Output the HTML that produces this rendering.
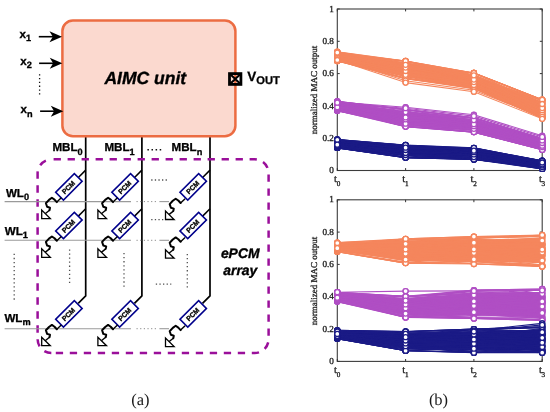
<!DOCTYPE html>
<html><head><meta charset="utf-8"><title>AIMC unit and ePCM array</title>
<style>html,body{margin:0;padding:0;background:#fff}svg{display:block}text{text-rendering:geometricPrecision}.sb{font-family:"Liberation Sans",sans-serif;font-weight:bold;fill:#000;stroke:#000;stroke-width:.3px}.sbi{font-family:"Liberation Sans",sans-serif;font-weight:bold;font-style:italic;fill:#000;stroke:#000;stroke-width:.35px}.se{font-family:"Liberation Serif",serif;fill:#1a1a1a}.tk{stroke:#1a1a1a;stroke-width:.3px}</style></head><body>
<svg width="550" height="412" viewBox="0 0 550 412">
<rect width="550" height="412" fill="#fff"/>
<g stroke="#000" stroke-width="1.7" fill="none">
<path d="M85.7 136 V295.9 L78.2 303.4"/>
<path d="M141.9 136 V295.9 L134.4 303.4"/>
<path d="M210.0 136 V295.9 L202.5 303.4"/>
</g>
<rect x="62.4" y="20.5" width="173" height="115.7" rx="10.5" ry="10.5" fill="#fbd9cf" stroke="#ec6c42" stroke-width="2.5"/>
<text class="sbi" x="145.3" y="83.9" font-size="17.5" text-anchor="middle">AIMC unit</text>
<path d="M38.8 36.7 H54" stroke="#000" stroke-width="1.6" fill="none"/>
<path d="M62 36.7 L49.5 31.200000000000003 L52.8 36.7 L49.5 42.2 Z" fill="#000"/>
<path d="M39.099999999999994 63.3 H54.3" stroke="#000" stroke-width="1.6" fill="none"/>
<path d="M62.3 63.3 L49.8 57.8 L53.099999999999994 63.3 L49.8 68.8 Z" fill="#000"/>
<path d="M40.099999999999994 111.2 H55.3" stroke="#000" stroke-width="1.6" fill="none"/>
<path d="M63.3 111.2 L50.8 105.7 L54.099999999999994 111.2 L50.8 116.7 Z" fill="#000"/>
<text class="sb" x="19.6" y="38" font-size="11.6" text-anchor="start">x<tspan font-size="9.2" dy="3.4">1</tspan></text>
<text class="sb" x="20.3" y="65" font-size="11.6" text-anchor="start">x<tspan font-size="9.2" dy="3.4">2</tspan></text>
<text class="sb" x="20.6" y="113.3" font-size="11.6" text-anchor="start">x<tspan font-size="9.2" dy="3.4">n</tspan></text>
<path d="M39.6 74.2 V95" stroke="#111" stroke-width="1.3" stroke-dasharray="1.3 2.5" fill="none"/>
<rect x="229.5" y="73.6" width="11.4" height="10.8" fill="none" stroke="#000" stroke-width="2.8"/>
<path d="M230 74 L240.5 84 M240.5 74 L230 84" stroke="#000" stroke-width="2.1"/>
<text class="sb" x="247.2" y="81" font-size="13.5">V<tspan font-size="11.2" dy="3">OUT</tspan></text>
<text class="sb" x="52.4" y="151.2" font-size="11.6" text-anchor="start">MBL<tspan font-size="9.2" dy="3.4">0</tspan></text>
<text class="sb" x="104.4" y="151.2" font-size="11.6" text-anchor="start">MBL<tspan font-size="9.2" dy="3.4">1</tspan></text>
<text class="sb" x="171.5" y="151.2" font-size="11.6" text-anchor="start">MBL<tspan font-size="9.2" dy="3.4">n</tspan></text>
<path d="M147.4 149.7 H162" stroke="#111" stroke-width="1.5" stroke-dasharray="1.5 2.6" fill="none"/>
<g fill="none" stroke="#9a0f9a" stroke-width="2.5" stroke-dasharray="7.3 6.7">
<path d="M51.7 159.3 H254.6 A14 14 0 0 1 268.6 173.3 V339 A14 14 0 0 1 254.6 353.1 H51.7" stroke-dashoffset="-1.9"/>
<path d="M51.7 159.3 A14 14 0 0 0 37.6 173.3 V339 A14 14 0 0 0 51.7 353.1" stroke-dashoffset="-6"/>
</g>
<path d="M4.6 201.6 H131" stroke="#9a9a9a" stroke-width="1.1" fill="none"/>
<path d="M136.5 201.6 H157" stroke="#8a8a8a" stroke-width="1" stroke-dasharray="1.2 2.45" fill="none"/>
<path d="M159.4 201.6 H169" stroke="#9a9a9a" stroke-width="1.1" fill="none"/>
<path d="M4.6 240.3 H131" stroke="#9a9a9a" stroke-width="1.1" fill="none"/>
<path d="M136.5 240.3 H157" stroke="#8a8a8a" stroke-width="1" stroke-dasharray="1.2 2.45" fill="none"/>
<path d="M159.4 240.3 H169" stroke="#9a9a9a" stroke-width="1.1" fill="none"/>
<path d="M4.6 328.7 H131" stroke="#9a9a9a" stroke-width="1.1" fill="none"/>
<path d="M136.5 328.7 H157" stroke="#8a8a8a" stroke-width="1" stroke-dasharray="1.2 2.45" fill="none"/>
<path d="M159.4 328.7 H169" stroke="#9a9a9a" stroke-width="1.1" fill="none"/>
<text class="sb" x="5.9" y="196.5" font-size="11.6" text-anchor="start">WL<tspan font-size="9.2" dy="3.4">0</tspan></text>
<text class="sb" x="4.8" y="234.6" font-size="11.6" text-anchor="start">WL<tspan font-size="9.2" dy="3.4">1</tspan></text>
<text class="sb" x="4.4" y="321.8" font-size="11.6" text-anchor="start">WL<tspan font-size="9.2" dy="3.4">m</tspan></text>
<g transform="translate(0.10 0.30)">
<path d="M85.6 169.8 L78 177.4" stroke="#000" stroke-width="1.5" fill="none"/>
<g transform="translate(68.8 186.5) rotate(-45)">
<rect x="-13.2" y="-5.5" width="26.4" height="11" fill="#fff" stroke="#00008b" stroke-width="1.6"/>
<text class="sb" x="-0.7" y="2.5" font-size="6.9" text-anchor="middle">PCM</text>
</g>
<g transform="translate(0 0)">
<path d="M61.2 197.5 L56.7 201.8" stroke="#000" stroke-width="1.4" fill="none"/>
<path d="M56.7 201.8 L54.4 199.3 L51.8 197.5 L48.9 199.6 L45.8 202.9 L47.0 206.5 L49.9 207.4 L49.4 209.9" stroke="#000" stroke-width="2" fill="none" stroke-linejoin="round" stroke-linecap="round"/>
<path d="M49.4 209.9 L45 213.4" stroke="#000" stroke-width="1.4" fill="none"/>
<path d="M41.6 209.8 V218.3 H50.2 Z" fill="#fff" stroke="#000" stroke-width="1.3" stroke-linejoin="miter"/>
</g></g>
<g transform="translate(0.10 39.00)">
<path d="M85.6 169.8 L78 177.4" stroke="#000" stroke-width="1.5" fill="none"/>
<g transform="translate(68.8 186.5) rotate(-45)">
<rect x="-13.2" y="-5.5" width="26.4" height="11" fill="#fff" stroke="#00008b" stroke-width="1.6"/>
<text class="sb" x="-0.7" y="2.5" font-size="6.9" text-anchor="middle">PCM</text>
</g>
<g transform="translate(0 0)">
<path d="M61.2 197.5 L56.7 201.8" stroke="#000" stroke-width="1.4" fill="none"/>
<path d="M56.7 201.8 L54.4 199.3 L51.8 197.5 L48.9 199.6 L45.8 202.9 L47.0 206.5 L49.9 207.4 L49.4 209.9" stroke="#000" stroke-width="2" fill="none" stroke-linejoin="round" stroke-linecap="round"/>
<path d="M49.4 209.9 L45 213.4" stroke="#000" stroke-width="1.4" fill="none"/>
<path d="M41.6 209.8 V218.3 H50.2 Z" fill="#fff" stroke="#000" stroke-width="1.3" stroke-linejoin="miter"/>
</g></g>
<g transform="translate(0.10 127.40)">
<g transform="translate(68.8 186.5) rotate(-45)">
<rect x="-13.2" y="-5.5" width="26.4" height="11" fill="#fff" stroke="#00008b" stroke-width="1.6"/>
<text class="sb" x="-0.7" y="2.5" font-size="6.9" text-anchor="middle">PCM</text>
</g>
<g transform="translate(0 0)">
<path d="M61.2 197.5 L56.7 201.8" stroke="#000" stroke-width="1.4" fill="none"/>
<path d="M56.7 201.8 L54.4 199.3 L51.8 197.5 L48.9 199.6 L45.8 202.9 L47.0 206.5 L49.9 207.4 L49.4 209.9" stroke="#000" stroke-width="2" fill="none" stroke-linejoin="round" stroke-linecap="round"/>
<path d="M49.4 209.9 L45 213.4" stroke="#000" stroke-width="1.4" fill="none"/>
<path d="M41.6 209.8 V218.3 H50.2 Z" fill="#fff" stroke="#000" stroke-width="1.3" stroke-linejoin="miter"/>
</g></g>
<g transform="translate(56.30 0.30)">
<path d="M85.6 169.8 L78 177.4" stroke="#000" stroke-width="1.5" fill="none"/>
<g transform="translate(68.8 186.5) rotate(-45)">
<rect x="-13.2" y="-5.5" width="26.4" height="11" fill="#fff" stroke="#00008b" stroke-width="1.6"/>
<text class="sb" x="-0.7" y="2.5" font-size="6.9" text-anchor="middle">PCM</text>
</g>
<g transform="translate(0 0)">
<path d="M61.2 197.5 L56.7 201.8" stroke="#000" stroke-width="1.4" fill="none"/>
<path d="M56.7 201.8 L54.4 199.3 L51.8 197.5 L48.9 199.6 L45.8 202.9 L47.0 206.5 L49.9 207.4 L49.4 209.9" stroke="#000" stroke-width="2" fill="none" stroke-linejoin="round" stroke-linecap="round"/>
<path d="M49.4 209.9 L45 213.4" stroke="#000" stroke-width="1.4" fill="none"/>
<path d="M41.6 209.8 V218.3 H50.2 Z" fill="#fff" stroke="#000" stroke-width="1.3" stroke-linejoin="miter"/>
</g></g>
<g transform="translate(56.30 39.00)">
<path d="M85.6 169.8 L78 177.4" stroke="#000" stroke-width="1.5" fill="none"/>
<g transform="translate(68.8 186.5) rotate(-45)">
<rect x="-13.2" y="-5.5" width="26.4" height="11" fill="#fff" stroke="#00008b" stroke-width="1.6"/>
<text class="sb" x="-0.7" y="2.5" font-size="6.9" text-anchor="middle">PCM</text>
</g>
<g transform="translate(0 0)">
<path d="M61.2 197.5 L56.7 201.8" stroke="#000" stroke-width="1.4" fill="none"/>
<path d="M56.7 201.8 L54.4 199.3 L51.8 197.5 L48.9 199.6 L45.8 202.9 L47.0 206.5 L49.9 207.4 L49.4 209.9" stroke="#000" stroke-width="2" fill="none" stroke-linejoin="round" stroke-linecap="round"/>
<path d="M49.4 209.9 L45 213.4" stroke="#000" stroke-width="1.4" fill="none"/>
<path d="M41.6 209.8 V218.3 H50.2 Z" fill="#fff" stroke="#000" stroke-width="1.3" stroke-linejoin="miter"/>
</g></g>
<g transform="translate(56.30 127.40)">
<g transform="translate(68.8 186.5) rotate(-45)">
<rect x="-13.2" y="-5.5" width="26.4" height="11" fill="#fff" stroke="#00008b" stroke-width="1.6"/>
<text class="sb" x="-0.7" y="2.5" font-size="6.9" text-anchor="middle">PCM</text>
</g>
<g transform="translate(0 0)">
<path d="M61.2 197.5 L56.7 201.8" stroke="#000" stroke-width="1.4" fill="none"/>
<path d="M56.7 201.8 L54.4 199.3 L51.8 197.5 L48.9 199.6 L45.8 202.9 L47.0 206.5 L49.9 207.4 L49.4 209.9" stroke="#000" stroke-width="2" fill="none" stroke-linejoin="round" stroke-linecap="round"/>
<path d="M49.4 209.9 L45 213.4" stroke="#000" stroke-width="1.4" fill="none"/>
<path d="M41.6 209.8 V218.3 H50.2 Z" fill="#fff" stroke="#000" stroke-width="1.3" stroke-linejoin="miter"/>
</g></g>
<g transform="translate(124.40 0.30)">
<path d="M85.6 169.8 L78 177.4" stroke="#000" stroke-width="1.5" fill="none"/>
<g transform="translate(68.8 186.5) rotate(-45)">
<rect x="-13.2" y="-5.5" width="26.4" height="11" fill="#fff" stroke="#00008b" stroke-width="1.6"/>
<text class="sb" x="-0.7" y="2.5" font-size="6.9" text-anchor="middle">PCM</text>
</g>
<g transform="translate(-0.5 0.9)">
<path d="M61.2 197.5 L56.7 201.8" stroke="#000" stroke-width="1.4" fill="none"/>
<path d="M56.7 201.8 L54.4 199.3 L51.8 197.5 L48.9 199.6 L45.8 202.9 L47.0 206.5 L49.9 207.4 L49.4 209.9" stroke="#000" stroke-width="2" fill="none" stroke-linejoin="round" stroke-linecap="round"/>
<path d="M49.4 209.9 L45 213.4" stroke="#000" stroke-width="1.4" fill="none"/>
<path d="M41.6 209.8 V218.3 H50.2 Z" fill="#fff" stroke="#000" stroke-width="1.3" stroke-linejoin="miter"/>
</g></g>
<g transform="translate(124.40 39.00)">
<path d="M85.6 169.8 L78 177.4" stroke="#000" stroke-width="1.5" fill="none"/>
<g transform="translate(68.8 186.5) rotate(-45)">
<rect x="-13.2" y="-5.5" width="26.4" height="11" fill="#fff" stroke="#00008b" stroke-width="1.6"/>
<text class="sb" x="-0.7" y="2.5" font-size="6.9" text-anchor="middle">PCM</text>
</g>
<g transform="translate(-0.5 0.9)">
<path d="M61.2 197.5 L56.7 201.8" stroke="#000" stroke-width="1.4" fill="none"/>
<path d="M56.7 201.8 L54.4 199.3 L51.8 197.5 L48.9 199.6 L45.8 202.9 L47.0 206.5 L49.9 207.4 L49.4 209.9" stroke="#000" stroke-width="2" fill="none" stroke-linejoin="round" stroke-linecap="round"/>
<path d="M49.4 209.9 L45 213.4" stroke="#000" stroke-width="1.4" fill="none"/>
<path d="M41.6 209.8 V218.3 H50.2 Z" fill="#fff" stroke="#000" stroke-width="1.3" stroke-linejoin="miter"/>
</g></g>
<g transform="translate(124.40 127.40)">
<g transform="translate(68.8 186.5) rotate(-45)">
<rect x="-13.2" y="-5.5" width="26.4" height="11" fill="#fff" stroke="#00008b" stroke-width="1.6"/>
<text class="sb" x="-0.7" y="2.5" font-size="6.9" text-anchor="middle">PCM</text>
</g>
<g transform="translate(-0.5 0.9)">
<path d="M61.2 197.5 L56.7 201.8" stroke="#000" stroke-width="1.4" fill="none"/>
<path d="M56.7 201.8 L54.4 199.3 L51.8 197.5 L48.9 199.6 L45.8 202.9 L47.0 206.5 L49.9 207.4 L49.4 209.9" stroke="#000" stroke-width="2" fill="none" stroke-linejoin="round" stroke-linecap="round"/>
<path d="M49.4 209.9 L45 213.4" stroke="#000" stroke-width="1.4" fill="none"/>
<path d="M41.6 209.8 V218.3 H50.2 Z" fill="#fff" stroke="#000" stroke-width="1.3" stroke-linejoin="miter"/>
</g></g>
<path d="M14.2 253.8 V302.3" stroke="#505050" stroke-width="1.3" stroke-dasharray="1.3 2.75" fill="none"/>
<path d="M69.6 249.4 V283.6" stroke="#505050" stroke-width="1.3" stroke-dasharray="1.3 2.75" fill="none"/>
<path d="M124 253 V287.2" stroke="#505050" stroke-width="1.3" stroke-dasharray="1.3 2.75" fill="none"/>
<path d="M187.3 253.9 V288.2" stroke="#505050" stroke-width="1.3" stroke-dasharray="1.3 2.75" fill="none"/>
<path d="M151.2 180 H167" stroke="#505050" stroke-width="1.3" stroke-dasharray="1.3 2.3" fill="none"/>
<path d="M151.2 219.7 H164" stroke="#505050" stroke-width="1.3" stroke-dasharray="1.3 2.3" fill="none"/>
<path d="M155.8 284.2 H171.3" stroke="#505050" stroke-width="1.3" stroke-dasharray="1.3 2.3" fill="none"/>
<text class="sbi" x="240.2" y="258.3" font-size="13.9" text-anchor="middle">ePCM</text>
<text class="sbi" x="240.3" y="274.6" font-size="13.9" text-anchor="middle">array</text>
<text class="se" x="140.4" y="404.5" font-size="16.5" text-anchor="middle">(a)</text>
<text class="se" x="438.5" y="404.5" font-size="16.5" text-anchor="middle">(b)</text>
<rect x="337.3" y="9.0" width="204.90000000000003" height="161.5" fill="none" stroke="#3c3c3c" stroke-width="1.1"/>
<g stroke="#333" stroke-width="1">
<path d="M337.3 170.5 v-2.4 M337.3 9.0 v2.4"/>
<path d="M405.6 170.5 v-2.4 M405.6 9.0 v2.4"/>
<path d="M473.9 170.5 v-2.4 M473.9 9.0 v2.4"/>
<path d="M542.2 170.5 v-2.4 M542.2 9.0 v2.4"/>
<path d="M337.3 170.5 h2.4 M542.2 170.5 h-2.4"/>
<path d="M337.3 138.2 h2.4 M542.2 138.2 h-2.4"/>
<path d="M337.3 105.9 h2.4 M542.2 105.9 h-2.4"/>
<path d="M337.3 73.6 h2.4 M542.2 73.6 h-2.4"/>
<path d="M337.3 41.3 h2.4 M542.2 41.3 h-2.4"/>
<path d="M337.3 9.0 h2.4 M542.2 9.0 h-2.4"/>
</g>
<g class="se tk" font-size="9.2" text-anchor="end">
<text x="333.9" y="173.1">0</text>
<text x="333.9" y="140.8">0.2</text>
<text x="333.9" y="108.5">0.4</text>
<text x="333.9" y="76.2">0.6</text>
<text x="333.9" y="43.9">0.8</text>
<text x="333.9" y="11.6">1</text>
</g>
<text class="se tk" x="334.0" y="182.0" font-size="10.6">t</text>
<text class="se tk" x="336.7" y="185.8" font-size="7.2">0</text>
<text class="se tk" x="402.3" y="182.0" font-size="10.6">t</text>
<text class="se tk" x="405.0" y="185.8" font-size="7.2">1</text>
<text class="se tk" x="470.6" y="182.0" font-size="10.6">t</text>
<text class="se tk" x="473.3" y="185.8" font-size="7.2">2</text>
<text class="se tk" x="538.9" y="182.0" font-size="10.6">t</text>
<text class="se tk" x="541.6" y="185.8" font-size="7.2">3</text>
<text class="se tk" transform="translate(316.9 90.0) rotate(-90)" font-size="9" text-anchor="middle">normalized MAC output</text>
<polygon fill="#f5865d" points="337.3,52.7 405.6,62.8 473.9,74.5 542.2,101.6 542.2,116.0 473.9,87.1 405.6,76.8 337.3,60.1"/>
<g stroke="#f5865d" stroke-width="1.1" fill="none" stroke-linejoin="round">
<polyline points="337.3,61.0 405.6,78.6 473.9,88.6 542.2,117.9"/>
<polyline points="337.3,60.8 405.6,78.3 473.9,88.3 542.2,117.5"/>
<polyline points="337.3,61.0 405.6,75.3 473.9,86.2 542.2,117.9"/>
<polyline points="337.3,60.5 405.6,78.0 473.9,86.7 542.2,114.6"/>
<polyline points="337.3,61.0 405.6,78.6 473.9,85.2 542.2,117.1"/>
<polyline points="337.3,59.1 405.6,78.6 473.9,87.6 542.2,114.4"/>
<polyline points="337.3,61.0 405.6,73.2 473.9,84.1 542.2,117.9"/>
<polyline points="337.3,61.0 405.6,76.0 473.9,83.6 542.2,116.5"/>
<polyline points="337.3,60.8 405.6,76.6 473.9,88.6 542.2,117.4"/>
<polyline points="337.3,59.7 405.6,75.8 473.9,87.9 542.2,117.0"/>
<polyline points="337.3,60.5 405.6,75.7 473.9,87.2 542.2,117.9"/>
<polyline points="337.3,57.8 405.6,74.6 473.9,84.5 542.2,116.7"/>
<polyline points="337.3,57.0 405.6,72.0 473.9,87.8 542.2,115.2"/>
<polyline points="337.3,57.9 405.6,72.8 473.9,81.9 542.2,114.2"/>
<polyline points="337.3,57.3 405.6,72.8 473.9,86.0 542.2,112.5"/>
<polyline points="337.3,56.9 405.6,71.1 473.9,84.3 542.2,112.2"/>
<polyline points="337.3,60.2 405.6,75.5 473.9,82.0 542.2,113.3"/>
<polyline points="337.3,59.5 405.6,72.8 473.9,82.4 542.2,110.9"/>
<polyline points="337.3,58.5 405.6,73.3 473.9,83.4 542.2,109.7"/>
<polyline points="337.3,57.7 405.6,73.4 473.9,83.3 542.2,115.3"/>
<polyline points="337.3,59.5 405.6,70.6 473.9,79.6 542.2,110.5"/>
<polyline points="337.3,57.9 405.6,74.4 473.9,82.6 542.2,107.1"/>
<polyline points="337.3,56.2 405.6,71.3 473.9,79.9 542.2,112.7"/>
<polyline points="337.3,57.1 405.6,67.7 473.9,81.5 542.2,110.6"/>
<polyline points="337.3,57.9 405.6,70.6 473.9,78.6 542.2,113.9"/>
<polyline points="337.3,55.7 405.6,68.1 473.9,78.8 542.2,107.7"/>
<polyline points="337.3,55.4 405.6,70.1 473.9,80.8 542.2,109.9"/>
<polyline points="337.3,58.3 405.6,67.1 473.9,80.4 542.2,111.4"/>
<polyline points="337.3,56.3 405.6,69.8 473.9,81.6 542.2,109.9"/>
<polyline points="337.3,56.0 405.6,68.4 473.9,79.6 542.2,108.6"/>
<polyline points="337.3,57.9 405.6,71.1 473.9,82.3 542.2,107.3"/>
<polyline points="337.3,54.4 405.6,66.4 473.9,77.7 542.2,105.1"/>
<polyline points="337.3,56.6 405.6,65.7 473.9,78.3 542.2,110.6"/>
<polyline points="337.3,57.4 405.6,71.8 473.9,77.5 542.2,109.0"/>
<polyline points="337.3,56.9 405.6,66.8 473.9,80.0 542.2,110.1"/>
<polyline points="337.3,56.5 405.6,67.2 473.9,80.9 542.2,108.1"/>
<polyline points="337.3,54.1 405.6,67.4 473.9,79.6 542.2,106.2"/>
<polyline points="337.3,56.7 405.6,67.6 473.9,78.6 542.2,108.2"/>
<polyline points="337.3,56.2 405.6,63.3 473.9,77.7 542.2,107.7"/>
<polyline points="337.3,54.0 405.6,63.7 473.9,80.8 542.2,108.9"/>
<polyline points="337.3,55.7 405.6,64.1 473.9,79.6 542.2,103.1"/>
<polyline points="337.3,53.4 405.6,65.1 473.9,78.9 542.2,100.6"/>
<polyline points="337.3,52.8 405.6,65.0 473.9,78.6 542.2,102.9"/>
<polyline points="337.3,54.2 405.6,64.3 473.9,77.6 542.2,102.7"/>
<polyline points="337.3,55.4 405.6,66.1 473.9,73.0 542.2,100.4"/>
<polyline points="337.3,54.3 405.6,61.4 473.9,77.1 542.2,99.8"/>
<polyline points="337.3,52.3 405.6,64.5 473.9,77.2 542.2,106.6"/>
<polyline points="337.3,51.8 405.6,67.1 473.9,73.0 542.2,99.8"/>
<polyline points="337.3,52.7 405.6,65.8 473.9,73.0 542.2,99.8"/>
<polyline points="337.3,52.0 405.6,62.9 473.9,75.5 542.2,103.0"/>
<polyline points="337.3,53.8 405.6,61.3 473.9,74.8 542.2,103.8"/>
<polyline points="337.3,54.1 405.6,61.0 473.9,75.5 542.2,101.1"/>
<polyline points="337.3,53.0 405.6,61.0 473.9,73.0 542.2,104.6"/>
<polyline points="337.3,53.3 405.6,63.0 473.9,73.0 542.2,99.8"/>
<polyline points="337.3,52.0 405.6,61.3 473.9,73.2 542.2,100.1"/>
<polyline points="337.3,51.8 405.6,61.0 473.9,73.0 542.2,99.8"/>
<polyline points="337.3,59.1 405.6,80.7 473.9,90.2 542.2,116.9"/>
<polyline points="337.3,60.0 405.6,82.6 473.9,91.7 542.2,118.8"/>
</g>
<g stroke="#f5865d" stroke-width="1.3" fill="none">
<circle cx="337.3" cy="61.0" r="2.55"/>
<circle cx="405.6" cy="78.6" r="2.55"/>
<circle cx="473.9" cy="88.6" r="2.55"/>
<circle cx="542.2" cy="117.9" r="2.55"/>
<circle cx="337.3" cy="60.8" r="2.55"/>
<circle cx="405.6" cy="78.3" r="2.55"/>
<circle cx="473.9" cy="88.3" r="2.55"/>
<circle cx="542.2" cy="117.5" r="2.55"/>
<circle cx="337.3" cy="61.0" r="2.55"/>
<circle cx="405.6" cy="75.3" r="2.55"/>
<circle cx="473.9" cy="86.2" r="2.55"/>
<circle cx="542.2" cy="117.9" r="2.55"/>
<circle cx="337.3" cy="60.5" r="2.55"/>
<circle cx="405.6" cy="78.0" r="2.55"/>
<circle cx="473.9" cy="86.7" r="2.55"/>
<circle cx="542.2" cy="114.6" r="2.55"/>
<circle cx="337.3" cy="61.0" r="2.55"/>
<circle cx="405.6" cy="78.6" r="2.55"/>
<circle cx="473.9" cy="85.2" r="2.55"/>
<circle cx="542.2" cy="117.1" r="2.55"/>
<circle cx="337.3" cy="59.1" r="2.55"/>
<circle cx="405.6" cy="78.6" r="2.55"/>
<circle cx="473.9" cy="87.6" r="2.55"/>
<circle cx="542.2" cy="114.4" r="2.55"/>
<circle cx="337.3" cy="61.0" r="2.55"/>
<circle cx="405.6" cy="73.2" r="2.55"/>
<circle cx="473.9" cy="84.1" r="2.55"/>
<circle cx="542.2" cy="117.9" r="2.55"/>
<circle cx="337.3" cy="61.0" r="2.55"/>
<circle cx="405.6" cy="76.0" r="2.55"/>
<circle cx="473.9" cy="83.6" r="2.55"/>
<circle cx="542.2" cy="116.5" r="2.55"/>
<circle cx="337.3" cy="60.8" r="2.55"/>
<circle cx="405.6" cy="76.6" r="2.55"/>
<circle cx="473.9" cy="88.6" r="2.55"/>
<circle cx="542.2" cy="117.4" r="2.55"/>
<circle cx="337.3" cy="59.7" r="2.55"/>
<circle cx="405.6" cy="75.8" r="2.55"/>
<circle cx="473.9" cy="87.9" r="2.55"/>
<circle cx="542.2" cy="117.0" r="2.55"/>
<circle cx="337.3" cy="60.5" r="2.55"/>
<circle cx="405.6" cy="75.7" r="2.55"/>
<circle cx="473.9" cy="87.2" r="2.55"/>
<circle cx="542.2" cy="117.9" r="2.55"/>
<circle cx="337.3" cy="57.8" r="2.55"/>
<circle cx="405.6" cy="74.6" r="2.55"/>
<circle cx="473.9" cy="84.5" r="2.55"/>
<circle cx="542.2" cy="116.7" r="2.55"/>
<circle cx="337.3" cy="57.0" r="2.55"/>
<circle cx="405.6" cy="72.0" r="2.55"/>
<circle cx="473.9" cy="87.8" r="2.55"/>
<circle cx="542.2" cy="115.2" r="2.55"/>
<circle cx="337.3" cy="57.9" r="2.55"/>
<circle cx="405.6" cy="72.8" r="2.55"/>
<circle cx="473.9" cy="81.9" r="2.55"/>
<circle cx="542.2" cy="114.2" r="2.55"/>
<circle cx="337.3" cy="57.3" r="2.55"/>
<circle cx="405.6" cy="72.8" r="2.55"/>
<circle cx="473.9" cy="86.0" r="2.55"/>
<circle cx="542.2" cy="112.5" r="2.55"/>
<circle cx="337.3" cy="56.9" r="2.55"/>
<circle cx="405.6" cy="71.1" r="2.55"/>
<circle cx="473.9" cy="84.3" r="2.55"/>
<circle cx="542.2" cy="112.2" r="2.55"/>
<circle cx="337.3" cy="60.2" r="2.55"/>
<circle cx="405.6" cy="75.5" r="2.55"/>
<circle cx="473.9" cy="82.0" r="2.55"/>
<circle cx="542.2" cy="113.3" r="2.55"/>
<circle cx="337.3" cy="59.5" r="2.55"/>
<circle cx="405.6" cy="72.8" r="2.55"/>
<circle cx="473.9" cy="82.4" r="2.55"/>
<circle cx="542.2" cy="110.9" r="2.55"/>
<circle cx="337.3" cy="58.5" r="2.55"/>
<circle cx="405.6" cy="73.3" r="2.55"/>
<circle cx="473.9" cy="83.4" r="2.55"/>
<circle cx="542.2" cy="109.7" r="2.55"/>
<circle cx="337.3" cy="57.7" r="2.55"/>
<circle cx="405.6" cy="73.4" r="2.55"/>
<circle cx="473.9" cy="83.3" r="2.55"/>
<circle cx="542.2" cy="115.3" r="2.55"/>
<circle cx="337.3" cy="59.5" r="2.55"/>
<circle cx="405.6" cy="70.6" r="2.55"/>
<circle cx="473.9" cy="79.6" r="2.55"/>
<circle cx="542.2" cy="110.5" r="2.55"/>
<circle cx="337.3" cy="57.9" r="2.55"/>
<circle cx="405.6" cy="74.4" r="2.55"/>
<circle cx="473.9" cy="82.6" r="2.55"/>
<circle cx="542.2" cy="107.1" r="2.55"/>
<circle cx="337.3" cy="56.2" r="2.55"/>
<circle cx="405.6" cy="71.3" r="2.55"/>
<circle cx="473.9" cy="79.9" r="2.55"/>
<circle cx="542.2" cy="112.7" r="2.55"/>
<circle cx="337.3" cy="57.1" r="2.55"/>
<circle cx="405.6" cy="67.7" r="2.55"/>
<circle cx="473.9" cy="81.5" r="2.55"/>
<circle cx="542.2" cy="110.6" r="2.55"/>
<circle cx="337.3" cy="57.9" r="2.55"/>
<circle cx="405.6" cy="70.6" r="2.55"/>
<circle cx="473.9" cy="78.6" r="2.55"/>
<circle cx="542.2" cy="113.9" r="2.55"/>
<circle cx="337.3" cy="55.7" r="2.55"/>
<circle cx="405.6" cy="68.1" r="2.55"/>
<circle cx="473.9" cy="78.8" r="2.55"/>
<circle cx="542.2" cy="107.7" r="2.55"/>
<circle cx="337.3" cy="55.4" r="2.55"/>
<circle cx="405.6" cy="70.1" r="2.55"/>
<circle cx="473.9" cy="80.8" r="2.55"/>
<circle cx="542.2" cy="109.9" r="2.55"/>
<circle cx="337.3" cy="58.3" r="2.55"/>
<circle cx="405.6" cy="67.1" r="2.55"/>
<circle cx="473.9" cy="80.4" r="2.55"/>
<circle cx="542.2" cy="111.4" r="2.55"/>
<circle cx="337.3" cy="56.3" r="2.55"/>
<circle cx="405.6" cy="69.8" r="2.55"/>
<circle cx="473.9" cy="81.6" r="2.55"/>
<circle cx="542.2" cy="109.9" r="2.55"/>
<circle cx="337.3" cy="56.0" r="2.55"/>
<circle cx="405.6" cy="68.4" r="2.55"/>
<circle cx="473.9" cy="79.6" r="2.55"/>
<circle cx="542.2" cy="108.6" r="2.55"/>
<circle cx="337.3" cy="57.9" r="2.55"/>
<circle cx="405.6" cy="71.1" r="2.55"/>
<circle cx="473.9" cy="82.3" r="2.55"/>
<circle cx="542.2" cy="107.3" r="2.55"/>
<circle cx="337.3" cy="54.4" r="2.55"/>
<circle cx="405.6" cy="66.4" r="2.55"/>
<circle cx="473.9" cy="77.7" r="2.55"/>
<circle cx="542.2" cy="105.1" r="2.55"/>
<circle cx="337.3" cy="56.6" r="2.55"/>
<circle cx="405.6" cy="65.7" r="2.55"/>
<circle cx="473.9" cy="78.3" r="2.55"/>
<circle cx="542.2" cy="110.6" r="2.55"/>
<circle cx="337.3" cy="57.4" r="2.55"/>
<circle cx="405.6" cy="71.8" r="2.55"/>
<circle cx="473.9" cy="77.5" r="2.55"/>
<circle cx="542.2" cy="109.0" r="2.55"/>
<circle cx="337.3" cy="56.9" r="2.55"/>
<circle cx="405.6" cy="66.8" r="2.55"/>
<circle cx="473.9" cy="80.0" r="2.55"/>
<circle cx="542.2" cy="110.1" r="2.55"/>
<circle cx="337.3" cy="56.5" r="2.55"/>
<circle cx="405.6" cy="67.2" r="2.55"/>
<circle cx="473.9" cy="80.9" r="2.55"/>
<circle cx="542.2" cy="108.1" r="2.55"/>
<circle cx="337.3" cy="54.1" r="2.55"/>
<circle cx="405.6" cy="67.4" r="2.55"/>
<circle cx="473.9" cy="79.6" r="2.55"/>
<circle cx="542.2" cy="106.2" r="2.55"/>
<circle cx="337.3" cy="56.7" r="2.55"/>
<circle cx="405.6" cy="67.6" r="2.55"/>
<circle cx="473.9" cy="78.6" r="2.55"/>
<circle cx="542.2" cy="108.2" r="2.55"/>
<circle cx="337.3" cy="56.2" r="2.55"/>
<circle cx="405.6" cy="63.3" r="2.55"/>
<circle cx="473.9" cy="77.7" r="2.55"/>
<circle cx="542.2" cy="107.7" r="2.55"/>
<circle cx="337.3" cy="54.0" r="2.55"/>
<circle cx="405.6" cy="63.7" r="2.55"/>
<circle cx="473.9" cy="80.8" r="2.55"/>
<circle cx="542.2" cy="108.9" r="2.55"/>
<circle cx="337.3" cy="55.7" r="2.55"/>
<circle cx="405.6" cy="64.1" r="2.55"/>
<circle cx="473.9" cy="79.6" r="2.55"/>
<circle cx="542.2" cy="103.1" r="2.55"/>
<circle cx="337.3" cy="53.4" r="2.55"/>
<circle cx="405.6" cy="65.1" r="2.55"/>
<circle cx="473.9" cy="78.9" r="2.55"/>
<circle cx="542.2" cy="100.6" r="2.55"/>
<circle cx="337.3" cy="52.8" r="2.55"/>
<circle cx="405.6" cy="65.0" r="2.55"/>
<circle cx="473.9" cy="78.6" r="2.55"/>
<circle cx="542.2" cy="102.9" r="2.55"/>
<circle cx="337.3" cy="54.2" r="2.55"/>
<circle cx="405.6" cy="64.3" r="2.55"/>
<circle cx="473.9" cy="77.6" r="2.55"/>
<circle cx="542.2" cy="102.7" r="2.55"/>
<circle cx="337.3" cy="55.4" r="2.55"/>
<circle cx="405.6" cy="66.1" r="2.55"/>
<circle cx="473.9" cy="73.0" r="2.55"/>
<circle cx="542.2" cy="100.4" r="2.55"/>
<circle cx="337.3" cy="54.3" r="2.55"/>
<circle cx="405.6" cy="61.4" r="2.55"/>
<circle cx="473.9" cy="77.1" r="2.55"/>
<circle cx="542.2" cy="99.8" r="2.55"/>
<circle cx="337.3" cy="52.3" r="2.55"/>
<circle cx="405.6" cy="64.5" r="2.55"/>
<circle cx="473.9" cy="77.2" r="2.55"/>
<circle cx="542.2" cy="106.6" r="2.55"/>
<circle cx="337.3" cy="51.8" r="2.55"/>
<circle cx="405.6" cy="67.1" r="2.55"/>
<circle cx="473.9" cy="73.0" r="2.55"/>
<circle cx="542.2" cy="99.8" r="2.55"/>
<circle cx="337.3" cy="52.7" r="2.55"/>
<circle cx="405.6" cy="65.8" r="2.55"/>
<circle cx="473.9" cy="73.0" r="2.55"/>
<circle cx="542.2" cy="99.8" r="2.55"/>
<circle cx="337.3" cy="52.0" r="2.55"/>
<circle cx="405.6" cy="62.9" r="2.55"/>
<circle cx="473.9" cy="75.5" r="2.55"/>
<circle cx="542.2" cy="103.0" r="2.55"/>
<circle cx="337.3" cy="53.8" r="2.55"/>
<circle cx="405.6" cy="61.3" r="2.55"/>
<circle cx="473.9" cy="74.8" r="2.55"/>
<circle cx="542.2" cy="103.8" r="2.55"/>
<circle cx="337.3" cy="54.1" r="2.55"/>
<circle cx="405.6" cy="61.0" r="2.55"/>
<circle cx="473.9" cy="75.5" r="2.55"/>
<circle cx="542.2" cy="101.1" r="2.55"/>
<circle cx="337.3" cy="53.0" r="2.55"/>
<circle cx="405.6" cy="61.0" r="2.55"/>
<circle cx="473.9" cy="73.0" r="2.55"/>
<circle cx="542.2" cy="104.6" r="2.55"/>
<circle cx="337.3" cy="53.3" r="2.55"/>
<circle cx="405.6" cy="63.0" r="2.55"/>
<circle cx="473.9" cy="73.0" r="2.55"/>
<circle cx="542.2" cy="99.8" r="2.55"/>
<circle cx="337.3" cy="52.0" r="2.55"/>
<circle cx="405.6" cy="61.3" r="2.55"/>
<circle cx="473.9" cy="73.2" r="2.55"/>
<circle cx="542.2" cy="100.1" r="2.55"/>
<circle cx="337.3" cy="51.8" r="2.55"/>
<circle cx="405.6" cy="61.0" r="2.55"/>
<circle cx="473.9" cy="73.0" r="2.55"/>
<circle cx="542.2" cy="99.8" r="2.55"/>
<circle cx="337.3" cy="59.1" r="2.55"/>
<circle cx="405.6" cy="80.7" r="2.55"/>
<circle cx="473.9" cy="90.2" r="2.55"/>
<circle cx="542.2" cy="116.9" r="2.55"/>
<circle cx="337.3" cy="60.0" r="2.55"/>
<circle cx="405.6" cy="82.6" r="2.55"/>
<circle cx="473.9" cy="91.7" r="2.55"/>
<circle cx="542.2" cy="118.8" r="2.55"/>
</g>
<g stroke="#f5865d" stroke-width="1.3" fill="#fff">
<circle cx="337.3" cy="52.6" r="2.5"/>
<circle cx="337.3" cy="57.8" r="2.5"/>
<circle cx="337.3" cy="59.1" r="2.5"/>
<circle cx="337.3" cy="60.0" r="2.5"/>
<circle cx="405.6" cy="78.6" r="2.5"/>
<circle cx="405.6" cy="61.0" r="2.5"/>
<circle cx="405.6" cy="74.8" r="2.5"/>
<circle cx="405.6" cy="71.0" r="2.5"/>
<circle cx="405.6" cy="67.6" r="2.5"/>
<circle cx="405.6" cy="64.8" r="2.5"/>
<circle cx="405.6" cy="80.7" r="2.5"/>
<circle cx="405.6" cy="82.6" r="2.5"/>
<circle cx="473.9" cy="88.6" r="2.5"/>
<circle cx="473.9" cy="73.0" r="2.5"/>
<circle cx="473.9" cy="84.9" r="2.5"/>
<circle cx="473.9" cy="82.1" r="2.5"/>
<circle cx="473.9" cy="79.6" r="2.5"/>
<circle cx="473.9" cy="75.3" r="2.5"/>
<circle cx="473.9" cy="90.2" r="2.5"/>
<circle cx="473.9" cy="91.7" r="2.5"/>
<circle cx="542.2" cy="117.9" r="2.5"/>
<circle cx="542.2" cy="99.8" r="2.5"/>
<circle cx="542.2" cy="114.7" r="2.5"/>
<circle cx="542.2" cy="110.2" r="2.5"/>
<circle cx="542.2" cy="108.1" r="2.5"/>
<circle cx="542.2" cy="104.0" r="2.5"/>
<circle cx="542.2" cy="116.9" r="2.5"/>
<circle cx="542.2" cy="118.8" r="2.5"/>
</g>
<polygon fill="#b04fc4" points="337.3,102.3 405.6,111.2 473.9,119.3 542.2,139.7 542.2,148.7 473.9,130.6 405.6,124.9 337.3,109.8"/>
<g stroke="#b04fc4" stroke-width="1.1" fill="none" stroke-linejoin="round">
<polyline points="337.3,110.7 405.6,126.6 473.9,132.1 542.2,149.8"/>
<polyline points="337.3,110.6 405.6,126.3 473.9,131.8 542.2,149.6"/>
<polyline points="337.3,108.7 405.6,126.6 473.9,129.9 542.2,148.9"/>
<polyline points="337.3,108.8 405.6,126.6 473.9,132.1 542.2,149.8"/>
<polyline points="337.3,108.5 405.6,124.5 473.9,128.2 542.2,147.1"/>
<polyline points="337.3,110.7 405.6,124.6 473.9,132.1 542.2,149.8"/>
<polyline points="337.3,110.7 405.6,121.9 473.9,128.7 542.2,147.0"/>
<polyline points="337.3,110.2 405.6,123.5 473.9,128.5 542.2,149.0"/>
<polyline points="337.3,109.1 405.6,126.2 473.9,132.1 542.2,149.3"/>
<polyline points="337.3,107.6 405.6,123.3 473.9,127.1 542.2,148.2"/>
<polyline points="337.3,110.0 405.6,121.3 473.9,127.4 542.2,149.8"/>
<polyline points="337.3,108.2 405.6,126.2 473.9,131.6 542.2,145.7"/>
<polyline points="337.3,110.6 405.6,124.8 473.9,125.9 542.2,147.8"/>
<polyline points="337.3,110.1 405.6,125.0 473.9,130.3 542.2,145.9"/>
<polyline points="337.3,110.0 405.6,119.1 473.9,129.2 542.2,144.6"/>
<polyline points="337.3,106.5 405.6,123.5 473.9,129.7 542.2,146.9"/>
<polyline points="337.3,109.7 405.6,120.4 473.9,130.8 542.2,149.0"/>
<polyline points="337.3,105.9 405.6,122.8 473.9,127.1 542.2,146.6"/>
<polyline points="337.3,108.4 405.6,124.3 473.9,124.8 542.2,143.8"/>
<polyline points="337.3,105.6 405.6,123.6 473.9,128.9 542.2,145.3"/>
<polyline points="337.3,105.4 405.6,120.0 473.9,125.7 542.2,144.9"/>
<polyline points="337.3,108.2 405.6,119.7 473.9,127.8 542.2,146.8"/>
<polyline points="337.3,108.7 405.6,121.4 473.9,123.4 542.2,145.6"/>
<polyline points="337.3,106.2 405.6,118.3 473.9,123.4 542.2,145.6"/>
<polyline points="337.3,107.5 405.6,120.4 473.9,127.0 542.2,143.2"/>
<polyline points="337.3,104.9 405.6,120.3 473.9,126.6 542.2,144.5"/>
<polyline points="337.3,106.0 405.6,117.8 473.9,126.9 542.2,146.9"/>
<polyline points="337.3,107.2 405.6,121.4 473.9,124.8 542.2,146.4"/>
<polyline points="337.3,107.7 405.6,116.8 473.9,126.1 542.2,142.6"/>
<polyline points="337.3,105.8 405.6,114.8 473.9,126.7 542.2,143.9"/>
<polyline points="337.3,104.4 405.6,120.4 473.9,121.5 542.2,145.3"/>
<polyline points="337.3,104.3 405.6,113.3 473.9,122.0 542.2,144.4"/>
<polyline points="337.3,106.9 405.6,116.5 473.9,121.2 542.2,144.3"/>
<polyline points="337.3,103.5 405.6,119.0 473.9,121.0 542.2,145.4"/>
<polyline points="337.3,105.7 405.6,113.0 473.9,121.4 542.2,140.8"/>
<polyline points="337.3,103.4 405.6,113.8 473.9,121.8 542.2,144.2"/>
<polyline points="337.3,104.9 405.6,117.9 473.9,121.4 542.2,141.6"/>
<polyline points="337.3,105.5 405.6,118.3 473.9,119.6 542.2,140.7"/>
<polyline points="337.3,104.1 405.6,114.4 473.9,120.0 542.2,142.2"/>
<polyline points="337.3,104.5 405.6,115.6 473.9,123.5 542.2,144.2"/>
<polyline points="337.3,103.3 405.6,114.7 473.9,121.3 542.2,143.8"/>
<polyline points="337.3,104.4 405.6,116.5 473.9,123.8 542.2,142.6"/>
<polyline points="337.3,102.2 405.6,114.3 473.9,121.8 542.2,140.6"/>
<polyline points="337.3,104.5 405.6,116.9 473.9,120.8 542.2,141.0"/>
<polyline points="337.3,102.6 405.6,113.3 473.9,119.5 542.2,139.6"/>
<polyline points="337.3,104.2 405.6,112.6 473.9,120.6 542.2,141.9"/>
<polyline points="337.3,103.3 405.6,111.8 473.9,117.9 542.2,138.5"/>
<polyline points="337.3,103.7 405.6,110.8 473.9,122.7 542.2,142.3"/>
<polyline points="337.3,102.5 405.6,109.5 473.9,121.8 542.2,138.6"/>
<polyline points="337.3,101.4 405.6,112.7 473.9,118.2 542.2,138.5"/>
<polyline points="337.3,102.8 405.6,109.5 473.9,117.9 542.2,139.1"/>
<polyline points="337.3,101.4 405.6,109.5 473.9,117.9 542.2,139.0"/>
<polyline points="337.3,103.2 405.6,112.3 473.9,120.4 542.2,138.8"/>
<polyline points="337.3,101.4 405.6,113.4 473.9,117.9 542.2,138.5"/>
<polyline points="337.3,101.5 405.6,109.8 473.9,118.1 542.2,138.7"/>
<polyline points="337.3,101.4 405.6,109.5 473.9,117.9 542.2,138.5"/>
<polyline points="337.3,102.0 405.6,107.2 473.9,114.8 542.2,135.8"/>
<polyline points="337.3,102.7 405.6,108.2 473.9,116.1 542.2,136.9"/>
</g>
<g stroke="#b04fc4" stroke-width="1.3" fill="none">
<circle cx="337.3" cy="110.7" r="2.55"/>
<circle cx="405.6" cy="126.6" r="2.55"/>
<circle cx="473.9" cy="132.1" r="2.55"/>
<circle cx="542.2" cy="149.8" r="2.55"/>
<circle cx="337.3" cy="110.6" r="2.55"/>
<circle cx="405.6" cy="126.3" r="2.55"/>
<circle cx="473.9" cy="131.8" r="2.55"/>
<circle cx="542.2" cy="149.6" r="2.55"/>
<circle cx="337.3" cy="108.7" r="2.55"/>
<circle cx="405.6" cy="126.6" r="2.55"/>
<circle cx="473.9" cy="129.9" r="2.55"/>
<circle cx="542.2" cy="148.9" r="2.55"/>
<circle cx="337.3" cy="108.8" r="2.55"/>
<circle cx="405.6" cy="126.6" r="2.55"/>
<circle cx="473.9" cy="132.1" r="2.55"/>
<circle cx="542.2" cy="149.8" r="2.55"/>
<circle cx="337.3" cy="108.5" r="2.55"/>
<circle cx="405.6" cy="124.5" r="2.55"/>
<circle cx="473.9" cy="128.2" r="2.55"/>
<circle cx="542.2" cy="147.1" r="2.55"/>
<circle cx="337.3" cy="110.7" r="2.55"/>
<circle cx="405.6" cy="124.6" r="2.55"/>
<circle cx="473.9" cy="132.1" r="2.55"/>
<circle cx="542.2" cy="149.8" r="2.55"/>
<circle cx="337.3" cy="110.7" r="2.55"/>
<circle cx="405.6" cy="121.9" r="2.55"/>
<circle cx="473.9" cy="128.7" r="2.55"/>
<circle cx="542.2" cy="147.0" r="2.55"/>
<circle cx="337.3" cy="110.2" r="2.55"/>
<circle cx="405.6" cy="123.5" r="2.55"/>
<circle cx="473.9" cy="128.5" r="2.55"/>
<circle cx="542.2" cy="149.0" r="2.55"/>
<circle cx="337.3" cy="109.1" r="2.55"/>
<circle cx="405.6" cy="126.2" r="2.55"/>
<circle cx="473.9" cy="132.1" r="2.55"/>
<circle cx="542.2" cy="149.3" r="2.55"/>
<circle cx="337.3" cy="107.6" r="2.55"/>
<circle cx="405.6" cy="123.3" r="2.55"/>
<circle cx="473.9" cy="127.1" r="2.55"/>
<circle cx="542.2" cy="148.2" r="2.55"/>
<circle cx="337.3" cy="110.0" r="2.55"/>
<circle cx="405.6" cy="121.3" r="2.55"/>
<circle cx="473.9" cy="127.4" r="2.55"/>
<circle cx="542.2" cy="149.8" r="2.55"/>
<circle cx="337.3" cy="108.2" r="2.55"/>
<circle cx="405.6" cy="126.2" r="2.55"/>
<circle cx="473.9" cy="131.6" r="2.55"/>
<circle cx="542.2" cy="145.7" r="2.55"/>
<circle cx="337.3" cy="110.6" r="2.55"/>
<circle cx="405.6" cy="124.8" r="2.55"/>
<circle cx="473.9" cy="125.9" r="2.55"/>
<circle cx="542.2" cy="147.8" r="2.55"/>
<circle cx="337.3" cy="110.1" r="2.55"/>
<circle cx="405.6" cy="125.0" r="2.55"/>
<circle cx="473.9" cy="130.3" r="2.55"/>
<circle cx="542.2" cy="145.9" r="2.55"/>
<circle cx="337.3" cy="110.0" r="2.55"/>
<circle cx="405.6" cy="119.1" r="2.55"/>
<circle cx="473.9" cy="129.2" r="2.55"/>
<circle cx="542.2" cy="144.6" r="2.55"/>
<circle cx="337.3" cy="106.5" r="2.55"/>
<circle cx="405.6" cy="123.5" r="2.55"/>
<circle cx="473.9" cy="129.7" r="2.55"/>
<circle cx="542.2" cy="146.9" r="2.55"/>
<circle cx="337.3" cy="109.7" r="2.55"/>
<circle cx="405.6" cy="120.4" r="2.55"/>
<circle cx="473.9" cy="130.8" r="2.55"/>
<circle cx="542.2" cy="149.0" r="2.55"/>
<circle cx="337.3" cy="105.9" r="2.55"/>
<circle cx="405.6" cy="122.8" r="2.55"/>
<circle cx="473.9" cy="127.1" r="2.55"/>
<circle cx="542.2" cy="146.6" r="2.55"/>
<circle cx="337.3" cy="108.4" r="2.55"/>
<circle cx="405.6" cy="124.3" r="2.55"/>
<circle cx="473.9" cy="124.8" r="2.55"/>
<circle cx="542.2" cy="143.8" r="2.55"/>
<circle cx="337.3" cy="105.6" r="2.55"/>
<circle cx="405.6" cy="123.6" r="2.55"/>
<circle cx="473.9" cy="128.9" r="2.55"/>
<circle cx="542.2" cy="145.3" r="2.55"/>
<circle cx="337.3" cy="105.4" r="2.55"/>
<circle cx="405.6" cy="120.0" r="2.55"/>
<circle cx="473.9" cy="125.7" r="2.55"/>
<circle cx="542.2" cy="144.9" r="2.55"/>
<circle cx="337.3" cy="108.2" r="2.55"/>
<circle cx="405.6" cy="119.7" r="2.55"/>
<circle cx="473.9" cy="127.8" r="2.55"/>
<circle cx="542.2" cy="146.8" r="2.55"/>
<circle cx="337.3" cy="108.7" r="2.55"/>
<circle cx="405.6" cy="121.4" r="2.55"/>
<circle cx="473.9" cy="123.4" r="2.55"/>
<circle cx="542.2" cy="145.6" r="2.55"/>
<circle cx="337.3" cy="106.2" r="2.55"/>
<circle cx="405.6" cy="118.3" r="2.55"/>
<circle cx="473.9" cy="123.4" r="2.55"/>
<circle cx="542.2" cy="145.6" r="2.55"/>
<circle cx="337.3" cy="107.5" r="2.55"/>
<circle cx="405.6" cy="120.4" r="2.55"/>
<circle cx="473.9" cy="127.0" r="2.55"/>
<circle cx="542.2" cy="143.2" r="2.55"/>
<circle cx="337.3" cy="104.9" r="2.55"/>
<circle cx="405.6" cy="120.3" r="2.55"/>
<circle cx="473.9" cy="126.6" r="2.55"/>
<circle cx="542.2" cy="144.5" r="2.55"/>
<circle cx="337.3" cy="106.0" r="2.55"/>
<circle cx="405.6" cy="117.8" r="2.55"/>
<circle cx="473.9" cy="126.9" r="2.55"/>
<circle cx="542.2" cy="146.9" r="2.55"/>
<circle cx="337.3" cy="107.2" r="2.55"/>
<circle cx="405.6" cy="121.4" r="2.55"/>
<circle cx="473.9" cy="124.8" r="2.55"/>
<circle cx="542.2" cy="146.4" r="2.55"/>
<circle cx="337.3" cy="107.7" r="2.55"/>
<circle cx="405.6" cy="116.8" r="2.55"/>
<circle cx="473.9" cy="126.1" r="2.55"/>
<circle cx="542.2" cy="142.6" r="2.55"/>
<circle cx="337.3" cy="105.8" r="2.55"/>
<circle cx="405.6" cy="114.8" r="2.55"/>
<circle cx="473.9" cy="126.7" r="2.55"/>
<circle cx="542.2" cy="143.9" r="2.55"/>
<circle cx="337.3" cy="104.4" r="2.55"/>
<circle cx="405.6" cy="120.4" r="2.55"/>
<circle cx="473.9" cy="121.5" r="2.55"/>
<circle cx="542.2" cy="145.3" r="2.55"/>
<circle cx="337.3" cy="104.3" r="2.55"/>
<circle cx="405.6" cy="113.3" r="2.55"/>
<circle cx="473.9" cy="122.0" r="2.55"/>
<circle cx="542.2" cy="144.4" r="2.55"/>
<circle cx="337.3" cy="106.9" r="2.55"/>
<circle cx="405.6" cy="116.5" r="2.55"/>
<circle cx="473.9" cy="121.2" r="2.55"/>
<circle cx="542.2" cy="144.3" r="2.55"/>
<circle cx="337.3" cy="103.5" r="2.55"/>
<circle cx="405.6" cy="119.0" r="2.55"/>
<circle cx="473.9" cy="121.0" r="2.55"/>
<circle cx="542.2" cy="145.4" r="2.55"/>
<circle cx="337.3" cy="105.7" r="2.55"/>
<circle cx="405.6" cy="113.0" r="2.55"/>
<circle cx="473.9" cy="121.4" r="2.55"/>
<circle cx="542.2" cy="140.8" r="2.55"/>
<circle cx="337.3" cy="103.4" r="2.55"/>
<circle cx="405.6" cy="113.8" r="2.55"/>
<circle cx="473.9" cy="121.8" r="2.55"/>
<circle cx="542.2" cy="144.2" r="2.55"/>
<circle cx="337.3" cy="104.9" r="2.55"/>
<circle cx="405.6" cy="117.9" r="2.55"/>
<circle cx="473.9" cy="121.4" r="2.55"/>
<circle cx="542.2" cy="141.6" r="2.55"/>
<circle cx="337.3" cy="105.5" r="2.55"/>
<circle cx="405.6" cy="118.3" r="2.55"/>
<circle cx="473.9" cy="119.6" r="2.55"/>
<circle cx="542.2" cy="140.7" r="2.55"/>
<circle cx="337.3" cy="104.1" r="2.55"/>
<circle cx="405.6" cy="114.4" r="2.55"/>
<circle cx="473.9" cy="120.0" r="2.55"/>
<circle cx="542.2" cy="142.2" r="2.55"/>
<circle cx="337.3" cy="104.5" r="2.55"/>
<circle cx="405.6" cy="115.6" r="2.55"/>
<circle cx="473.9" cy="123.5" r="2.55"/>
<circle cx="542.2" cy="144.2" r="2.55"/>
<circle cx="337.3" cy="103.3" r="2.55"/>
<circle cx="405.6" cy="114.7" r="2.55"/>
<circle cx="473.9" cy="121.3" r="2.55"/>
<circle cx="542.2" cy="143.8" r="2.55"/>
<circle cx="337.3" cy="104.4" r="2.55"/>
<circle cx="405.6" cy="116.5" r="2.55"/>
<circle cx="473.9" cy="123.8" r="2.55"/>
<circle cx="542.2" cy="142.6" r="2.55"/>
<circle cx="337.3" cy="102.2" r="2.55"/>
<circle cx="405.6" cy="114.3" r="2.55"/>
<circle cx="473.9" cy="121.8" r="2.55"/>
<circle cx="542.2" cy="140.6" r="2.55"/>
<circle cx="337.3" cy="104.5" r="2.55"/>
<circle cx="405.6" cy="116.9" r="2.55"/>
<circle cx="473.9" cy="120.8" r="2.55"/>
<circle cx="542.2" cy="141.0" r="2.55"/>
<circle cx="337.3" cy="102.6" r="2.55"/>
<circle cx="405.6" cy="113.3" r="2.55"/>
<circle cx="473.9" cy="119.5" r="2.55"/>
<circle cx="542.2" cy="139.6" r="2.55"/>
<circle cx="337.3" cy="104.2" r="2.55"/>
<circle cx="405.6" cy="112.6" r="2.55"/>
<circle cx="473.9" cy="120.6" r="2.55"/>
<circle cx="542.2" cy="141.9" r="2.55"/>
<circle cx="337.3" cy="103.3" r="2.55"/>
<circle cx="405.6" cy="111.8" r="2.55"/>
<circle cx="473.9" cy="117.9" r="2.55"/>
<circle cx="542.2" cy="138.5" r="2.55"/>
<circle cx="337.3" cy="103.7" r="2.55"/>
<circle cx="405.6" cy="110.8" r="2.55"/>
<circle cx="473.9" cy="122.7" r="2.55"/>
<circle cx="542.2" cy="142.3" r="2.55"/>
<circle cx="337.3" cy="102.5" r="2.55"/>
<circle cx="405.6" cy="109.5" r="2.55"/>
<circle cx="473.9" cy="121.8" r="2.55"/>
<circle cx="542.2" cy="138.6" r="2.55"/>
<circle cx="337.3" cy="101.4" r="2.55"/>
<circle cx="405.6" cy="112.7" r="2.55"/>
<circle cx="473.9" cy="118.2" r="2.55"/>
<circle cx="542.2" cy="138.5" r="2.55"/>
<circle cx="337.3" cy="102.8" r="2.55"/>
<circle cx="405.6" cy="109.5" r="2.55"/>
<circle cx="473.9" cy="117.9" r="2.55"/>
<circle cx="542.2" cy="139.1" r="2.55"/>
<circle cx="337.3" cy="101.4" r="2.55"/>
<circle cx="405.6" cy="109.5" r="2.55"/>
<circle cx="473.9" cy="117.9" r="2.55"/>
<circle cx="542.2" cy="139.0" r="2.55"/>
<circle cx="337.3" cy="103.2" r="2.55"/>
<circle cx="405.6" cy="112.3" r="2.55"/>
<circle cx="473.9" cy="120.4" r="2.55"/>
<circle cx="542.2" cy="138.8" r="2.55"/>
<circle cx="337.3" cy="101.4" r="2.55"/>
<circle cx="405.6" cy="113.4" r="2.55"/>
<circle cx="473.9" cy="117.9" r="2.55"/>
<circle cx="542.2" cy="138.5" r="2.55"/>
<circle cx="337.3" cy="101.5" r="2.55"/>
<circle cx="405.6" cy="109.8" r="2.55"/>
<circle cx="473.9" cy="118.1" r="2.55"/>
<circle cx="542.2" cy="138.7" r="2.55"/>
<circle cx="337.3" cy="101.4" r="2.55"/>
<circle cx="405.6" cy="109.5" r="2.55"/>
<circle cx="473.9" cy="117.9" r="2.55"/>
<circle cx="542.2" cy="138.5" r="2.55"/>
<circle cx="337.3" cy="102.0" r="2.55"/>
<circle cx="405.6" cy="107.2" r="2.55"/>
<circle cx="473.9" cy="114.8" r="2.55"/>
<circle cx="542.2" cy="135.8" r="2.55"/>
<circle cx="337.3" cy="102.7" r="2.55"/>
<circle cx="405.6" cy="108.2" r="2.55"/>
<circle cx="473.9" cy="116.1" r="2.55"/>
<circle cx="542.2" cy="136.9" r="2.55"/>
</g>
<g stroke="#b04fc4" stroke-width="1.3" fill="#fff">
<circle cx="337.3" cy="102.2" r="2.5"/>
<circle cx="337.3" cy="107.2" r="2.5"/>
<circle cx="337.3" cy="102.0" r="2.5"/>
<circle cx="337.3" cy="102.7" r="2.5"/>
<circle cx="405.6" cy="126.6" r="2.5"/>
<circle cx="405.6" cy="109.5" r="2.5"/>
<circle cx="405.6" cy="123.7" r="2.5"/>
<circle cx="405.6" cy="119.3" r="2.5"/>
<circle cx="405.6" cy="117.4" r="2.5"/>
<circle cx="405.6" cy="112.1" r="2.5"/>
<circle cx="405.6" cy="107.2" r="2.5"/>
<circle cx="405.6" cy="108.2" r="2.5"/>
<circle cx="473.9" cy="132.1" r="2.5"/>
<circle cx="473.9" cy="117.9" r="2.5"/>
<circle cx="473.9" cy="128.8" r="2.5"/>
<circle cx="473.9" cy="126.2" r="2.5"/>
<circle cx="473.9" cy="124.2" r="2.5"/>
<circle cx="473.9" cy="120.1" r="2.5"/>
<circle cx="473.9" cy="114.8" r="2.5"/>
<circle cx="473.9" cy="116.1" r="2.5"/>
<circle cx="542.2" cy="149.8" r="2.5"/>
<circle cx="542.2" cy="138.5" r="2.5"/>
<circle cx="542.2" cy="147.0" r="2.5"/>
<circle cx="542.2" cy="145.7" r="2.5"/>
<circle cx="542.2" cy="143.0" r="2.5"/>
<circle cx="542.2" cy="140.4" r="2.5"/>
<circle cx="542.2" cy="135.8" r="2.5"/>
<circle cx="542.2" cy="136.9" r="2.5"/>
</g>
<polygon fill="#1b1b86" points="337.3,140.3 405.6,146.2 473.9,149.1 542.2,161.6 542.2,168.1 473.9,158.4 405.6,156.3 337.3,147.1"/>
<g stroke="#1b1b86" stroke-width="1.1" fill="none" stroke-linejoin="round">
<polyline points="337.3,147.9 405.6,157.6 473.9,159.5 542.2,168.9"/>
<polyline points="337.3,147.7 405.6,157.4 473.9,159.3 542.2,168.7"/>
<polyline points="337.3,147.0 405.6,156.0 473.9,159.4 542.2,167.1"/>
<polyline points="337.3,145.7 405.6,157.5 473.9,157.3 542.2,168.7"/>
<polyline points="337.3,147.9 405.6,157.6 473.9,159.5 542.2,166.8"/>
<polyline points="337.3,145.4 405.6,157.6 473.9,157.9 542.2,168.5"/>
<polyline points="337.3,147.9 405.6,157.3 473.9,159.5 542.2,167.1"/>
<polyline points="337.3,147.9 405.6,157.6 473.9,158.4 542.2,168.9"/>
<polyline points="337.3,146.2 405.6,155.2 473.9,156.1 542.2,168.8"/>
<polyline points="337.3,147.3 405.6,155.3 473.9,158.8 542.2,167.3"/>
<polyline points="337.3,147.3 405.6,154.3 473.9,155.9 542.2,166.3"/>
<polyline points="337.3,144.5 405.6,154.8 473.9,157.2 542.2,166.0"/>
<polyline points="337.3,145.1 405.6,154.4 473.9,157.6 542.2,167.9"/>
<polyline points="337.3,147.4 405.6,152.9 473.9,158.7 542.2,166.1"/>
<polyline points="337.3,145.6 405.6,151.8 473.9,155.2 542.2,165.1"/>
<polyline points="337.3,146.9 405.6,154.1 473.9,156.0 542.2,167.4"/>
<polyline points="337.3,145.4 405.6,154.7 473.9,156.0 542.2,168.3"/>
<polyline points="337.3,145.5 405.6,154.0 473.9,156.9 542.2,166.7"/>
<polyline points="337.3,144.1 405.6,152.4 473.9,155.8 542.2,165.7"/>
<polyline points="337.3,145.4 405.6,154.9 473.9,158.0 542.2,166.9"/>
<polyline points="337.3,144.5 405.6,150.9 473.9,153.6 542.2,165.9"/>
<polyline points="337.3,142.9 405.6,153.0 473.9,153.4 542.2,166.1"/>
<polyline points="337.3,143.6 405.6,149.8 473.9,155.9 542.2,166.8"/>
<polyline points="337.3,143.9 405.6,152.1 473.9,155.4 542.2,167.3"/>
<polyline points="337.3,144.6 405.6,152.5 473.9,154.9 542.2,164.1"/>
<polyline points="337.3,143.8 405.6,150.6 473.9,152.2 542.2,164.3"/>
<polyline points="337.3,143.9 405.6,150.3 473.9,153.3 542.2,164.5"/>
<polyline points="337.3,143.3 405.6,151.9 473.9,153.1 542.2,164.4"/>
<polyline points="337.3,142.0 405.6,149.6 473.9,151.8 542.2,163.8"/>
<polyline points="337.3,142.3 405.6,150.4 473.9,154.2 542.2,165.5"/>
<polyline points="337.3,142.5 405.6,148.6 473.9,152.9 542.2,165.7"/>
<polyline points="337.3,141.9 405.6,150.6 473.9,153.1 542.2,165.9"/>
<polyline points="337.3,143.0 405.6,148.9 473.9,153.1 542.2,164.7"/>
<polyline points="337.3,142.3 405.6,152.7 473.9,152.5 542.2,162.5"/>
<polyline points="337.3,142.0 405.6,150.3 473.9,151.4 542.2,163.5"/>
<polyline points="337.3,143.6 405.6,151.2 473.9,150.1 542.2,164.6"/>
<polyline points="337.3,144.0 405.6,147.5 473.9,151.8 542.2,164.1"/>
<polyline points="337.3,142.2 405.6,147.8 473.9,153.4 542.2,162.9"/>
<polyline points="337.3,141.3 405.6,147.1 473.9,152.7 542.2,162.9"/>
<polyline points="337.3,142.9 405.6,148.3 473.9,152.9 542.2,162.1"/>
<polyline points="337.3,140.4 405.6,149.4 473.9,152.5 542.2,161.4"/>
<polyline points="337.3,140.9 405.6,146.3 473.9,153.3 542.2,161.4"/>
<polyline points="337.3,141.0 405.6,149.0 473.9,151.0 542.2,161.8"/>
<polyline points="337.3,140.3 405.6,149.5 473.9,149.8 542.2,163.8"/>
<polyline points="337.3,139.5 405.6,147.8 473.9,148.1 542.2,161.6"/>
<polyline points="337.3,140.6 405.6,148.6 473.9,149.9 542.2,163.6"/>
<polyline points="337.3,142.2 405.6,145.8 473.9,150.5 542.2,161.2"/>
<polyline points="337.3,141.7 405.6,145.6 473.9,148.5 542.2,162.7"/>
<polyline points="337.3,142.0 405.6,147.2 473.9,149.4 542.2,163.3"/>
<polyline points="337.3,141.6 405.6,148.8 473.9,148.7 542.2,160.8"/>
<polyline points="337.3,141.3 405.6,148.7 473.9,147.9 542.2,160.8"/>
<polyline points="337.3,139.5 405.6,145.3 473.9,149.5 542.2,160.8"/>
<polyline points="337.3,141.4 405.6,145.0 473.9,150.6 542.2,161.6"/>
<polyline points="337.3,139.8 405.6,146.1 473.9,150.0 542.2,162.1"/>
<polyline points="337.3,139.6 405.6,145.2 473.9,148.1 542.2,161.0"/>
<polyline points="337.3,139.5 405.6,145.0 473.9,147.9 542.2,160.8"/>
</g>
<g stroke="#1b1b86" stroke-width="1.3" fill="none">
<circle cx="337.3" cy="147.9" r="2.55"/>
<circle cx="405.6" cy="157.6" r="2.55"/>
<circle cx="473.9" cy="159.5" r="2.55"/>
<circle cx="542.2" cy="168.9" r="2.55"/>
<circle cx="337.3" cy="147.7" r="2.55"/>
<circle cx="405.6" cy="157.4" r="2.55"/>
<circle cx="473.9" cy="159.3" r="2.55"/>
<circle cx="542.2" cy="168.7" r="2.55"/>
<circle cx="337.3" cy="147.0" r="2.55"/>
<circle cx="405.6" cy="156.0" r="2.55"/>
<circle cx="473.9" cy="159.4" r="2.55"/>
<circle cx="542.2" cy="167.1" r="2.55"/>
<circle cx="337.3" cy="145.7" r="2.55"/>
<circle cx="405.6" cy="157.5" r="2.55"/>
<circle cx="473.9" cy="157.3" r="2.55"/>
<circle cx="542.2" cy="168.7" r="2.55"/>
<circle cx="337.3" cy="147.9" r="2.55"/>
<circle cx="405.6" cy="157.6" r="2.55"/>
<circle cx="473.9" cy="159.5" r="2.55"/>
<circle cx="542.2" cy="166.8" r="2.55"/>
<circle cx="337.3" cy="145.4" r="2.55"/>
<circle cx="405.6" cy="157.6" r="2.55"/>
<circle cx="473.9" cy="157.9" r="2.55"/>
<circle cx="542.2" cy="168.5" r="2.55"/>
<circle cx="337.3" cy="147.9" r="2.55"/>
<circle cx="405.6" cy="157.3" r="2.55"/>
<circle cx="473.9" cy="159.5" r="2.55"/>
<circle cx="542.2" cy="167.1" r="2.55"/>
<circle cx="337.3" cy="147.9" r="2.55"/>
<circle cx="405.6" cy="157.6" r="2.55"/>
<circle cx="473.9" cy="158.4" r="2.55"/>
<circle cx="542.2" cy="168.9" r="2.55"/>
<circle cx="337.3" cy="146.2" r="2.55"/>
<circle cx="405.6" cy="155.2" r="2.55"/>
<circle cx="473.9" cy="156.1" r="2.55"/>
<circle cx="542.2" cy="168.8" r="2.55"/>
<circle cx="337.3" cy="147.3" r="2.55"/>
<circle cx="405.6" cy="155.3" r="2.55"/>
<circle cx="473.9" cy="158.8" r="2.55"/>
<circle cx="542.2" cy="167.3" r="2.55"/>
<circle cx="337.3" cy="147.3" r="2.55"/>
<circle cx="405.6" cy="154.3" r="2.55"/>
<circle cx="473.9" cy="155.9" r="2.55"/>
<circle cx="542.2" cy="166.3" r="2.55"/>
<circle cx="337.3" cy="144.5" r="2.55"/>
<circle cx="405.6" cy="154.8" r="2.55"/>
<circle cx="473.9" cy="157.2" r="2.55"/>
<circle cx="542.2" cy="166.0" r="2.55"/>
<circle cx="337.3" cy="145.1" r="2.55"/>
<circle cx="405.6" cy="154.4" r="2.55"/>
<circle cx="473.9" cy="157.6" r="2.55"/>
<circle cx="542.2" cy="167.9" r="2.55"/>
<circle cx="337.3" cy="147.4" r="2.55"/>
<circle cx="405.6" cy="152.9" r="2.55"/>
<circle cx="473.9" cy="158.7" r="2.55"/>
<circle cx="542.2" cy="166.1" r="2.55"/>
<circle cx="337.3" cy="145.6" r="2.55"/>
<circle cx="405.6" cy="151.8" r="2.55"/>
<circle cx="473.9" cy="155.2" r="2.55"/>
<circle cx="542.2" cy="165.1" r="2.55"/>
<circle cx="337.3" cy="146.9" r="2.55"/>
<circle cx="405.6" cy="154.1" r="2.55"/>
<circle cx="473.9" cy="156.0" r="2.55"/>
<circle cx="542.2" cy="167.4" r="2.55"/>
<circle cx="337.3" cy="145.4" r="2.55"/>
<circle cx="405.6" cy="154.7" r="2.55"/>
<circle cx="473.9" cy="156.0" r="2.55"/>
<circle cx="542.2" cy="168.3" r="2.55"/>
<circle cx="337.3" cy="145.5" r="2.55"/>
<circle cx="405.6" cy="154.0" r="2.55"/>
<circle cx="473.9" cy="156.9" r="2.55"/>
<circle cx="542.2" cy="166.7" r="2.55"/>
<circle cx="337.3" cy="144.1" r="2.55"/>
<circle cx="405.6" cy="152.4" r="2.55"/>
<circle cx="473.9" cy="155.8" r="2.55"/>
<circle cx="542.2" cy="165.7" r="2.55"/>
<circle cx="337.3" cy="145.4" r="2.55"/>
<circle cx="405.6" cy="154.9" r="2.55"/>
<circle cx="473.9" cy="158.0" r="2.55"/>
<circle cx="542.2" cy="166.9" r="2.55"/>
<circle cx="337.3" cy="144.5" r="2.55"/>
<circle cx="405.6" cy="150.9" r="2.55"/>
<circle cx="473.9" cy="153.6" r="2.55"/>
<circle cx="542.2" cy="165.9" r="2.55"/>
<circle cx="337.3" cy="142.9" r="2.55"/>
<circle cx="405.6" cy="153.0" r="2.55"/>
<circle cx="473.9" cy="153.4" r="2.55"/>
<circle cx="542.2" cy="166.1" r="2.55"/>
<circle cx="337.3" cy="143.6" r="2.55"/>
<circle cx="405.6" cy="149.8" r="2.55"/>
<circle cx="473.9" cy="155.9" r="2.55"/>
<circle cx="542.2" cy="166.8" r="2.55"/>
<circle cx="337.3" cy="143.9" r="2.55"/>
<circle cx="405.6" cy="152.1" r="2.55"/>
<circle cx="473.9" cy="155.4" r="2.55"/>
<circle cx="542.2" cy="167.3" r="2.55"/>
<circle cx="337.3" cy="144.6" r="2.55"/>
<circle cx="405.6" cy="152.5" r="2.55"/>
<circle cx="473.9" cy="154.9" r="2.55"/>
<circle cx="542.2" cy="164.1" r="2.55"/>
<circle cx="337.3" cy="143.8" r="2.55"/>
<circle cx="405.6" cy="150.6" r="2.55"/>
<circle cx="473.9" cy="152.2" r="2.55"/>
<circle cx="542.2" cy="164.3" r="2.55"/>
<circle cx="337.3" cy="143.9" r="2.55"/>
<circle cx="405.6" cy="150.3" r="2.55"/>
<circle cx="473.9" cy="153.3" r="2.55"/>
<circle cx="542.2" cy="164.5" r="2.55"/>
<circle cx="337.3" cy="143.3" r="2.55"/>
<circle cx="405.6" cy="151.9" r="2.55"/>
<circle cx="473.9" cy="153.1" r="2.55"/>
<circle cx="542.2" cy="164.4" r="2.55"/>
<circle cx="337.3" cy="142.0" r="2.55"/>
<circle cx="405.6" cy="149.6" r="2.55"/>
<circle cx="473.9" cy="151.8" r="2.55"/>
<circle cx="542.2" cy="163.8" r="2.55"/>
<circle cx="337.3" cy="142.3" r="2.55"/>
<circle cx="405.6" cy="150.4" r="2.55"/>
<circle cx="473.9" cy="154.2" r="2.55"/>
<circle cx="542.2" cy="165.5" r="2.55"/>
<circle cx="337.3" cy="142.5" r="2.55"/>
<circle cx="405.6" cy="148.6" r="2.55"/>
<circle cx="473.9" cy="152.9" r="2.55"/>
<circle cx="542.2" cy="165.7" r="2.55"/>
<circle cx="337.3" cy="141.9" r="2.55"/>
<circle cx="405.6" cy="150.6" r="2.55"/>
<circle cx="473.9" cy="153.1" r="2.55"/>
<circle cx="542.2" cy="165.9" r="2.55"/>
<circle cx="337.3" cy="143.0" r="2.55"/>
<circle cx="405.6" cy="148.9" r="2.55"/>
<circle cx="473.9" cy="153.1" r="2.55"/>
<circle cx="542.2" cy="164.7" r="2.55"/>
<circle cx="337.3" cy="142.3" r="2.55"/>
<circle cx="405.6" cy="152.7" r="2.55"/>
<circle cx="473.9" cy="152.5" r="2.55"/>
<circle cx="542.2" cy="162.5" r="2.55"/>
<circle cx="337.3" cy="142.0" r="2.55"/>
<circle cx="405.6" cy="150.3" r="2.55"/>
<circle cx="473.9" cy="151.4" r="2.55"/>
<circle cx="542.2" cy="163.5" r="2.55"/>
<circle cx="337.3" cy="143.6" r="2.55"/>
<circle cx="405.6" cy="151.2" r="2.55"/>
<circle cx="473.9" cy="150.1" r="2.55"/>
<circle cx="542.2" cy="164.6" r="2.55"/>
<circle cx="337.3" cy="144.0" r="2.55"/>
<circle cx="405.6" cy="147.5" r="2.55"/>
<circle cx="473.9" cy="151.8" r="2.55"/>
<circle cx="542.2" cy="164.1" r="2.55"/>
<circle cx="337.3" cy="142.2" r="2.55"/>
<circle cx="405.6" cy="147.8" r="2.55"/>
<circle cx="473.9" cy="153.4" r="2.55"/>
<circle cx="542.2" cy="162.9" r="2.55"/>
<circle cx="337.3" cy="141.3" r="2.55"/>
<circle cx="405.6" cy="147.1" r="2.55"/>
<circle cx="473.9" cy="152.7" r="2.55"/>
<circle cx="542.2" cy="162.9" r="2.55"/>
<circle cx="337.3" cy="142.9" r="2.55"/>
<circle cx="405.6" cy="148.3" r="2.55"/>
<circle cx="473.9" cy="152.9" r="2.55"/>
<circle cx="542.2" cy="162.1" r="2.55"/>
<circle cx="337.3" cy="140.4" r="2.55"/>
<circle cx="405.6" cy="149.4" r="2.55"/>
<circle cx="473.9" cy="152.5" r="2.55"/>
<circle cx="542.2" cy="161.4" r="2.55"/>
<circle cx="337.3" cy="140.9" r="2.55"/>
<circle cx="405.6" cy="146.3" r="2.55"/>
<circle cx="473.9" cy="153.3" r="2.55"/>
<circle cx="542.2" cy="161.4" r="2.55"/>
<circle cx="337.3" cy="141.0" r="2.55"/>
<circle cx="405.6" cy="149.0" r="2.55"/>
<circle cx="473.9" cy="151.0" r="2.55"/>
<circle cx="542.2" cy="161.8" r="2.55"/>
<circle cx="337.3" cy="140.3" r="2.55"/>
<circle cx="405.6" cy="149.5" r="2.55"/>
<circle cx="473.9" cy="149.8" r="2.55"/>
<circle cx="542.2" cy="163.8" r="2.55"/>
<circle cx="337.3" cy="139.5" r="2.55"/>
<circle cx="405.6" cy="147.8" r="2.55"/>
<circle cx="473.9" cy="148.1" r="2.55"/>
<circle cx="542.2" cy="161.6" r="2.55"/>
<circle cx="337.3" cy="140.6" r="2.55"/>
<circle cx="405.6" cy="148.6" r="2.55"/>
<circle cx="473.9" cy="149.9" r="2.55"/>
<circle cx="542.2" cy="163.6" r="2.55"/>
<circle cx="337.3" cy="142.2" r="2.55"/>
<circle cx="405.6" cy="145.8" r="2.55"/>
<circle cx="473.9" cy="150.5" r="2.55"/>
<circle cx="542.2" cy="161.2" r="2.55"/>
<circle cx="337.3" cy="141.7" r="2.55"/>
<circle cx="405.6" cy="145.6" r="2.55"/>
<circle cx="473.9" cy="148.5" r="2.55"/>
<circle cx="542.2" cy="162.7" r="2.55"/>
<circle cx="337.3" cy="142.0" r="2.55"/>
<circle cx="405.6" cy="147.2" r="2.55"/>
<circle cx="473.9" cy="149.4" r="2.55"/>
<circle cx="542.2" cy="163.3" r="2.55"/>
<circle cx="337.3" cy="141.6" r="2.55"/>
<circle cx="405.6" cy="148.8" r="2.55"/>
<circle cx="473.9" cy="148.7" r="2.55"/>
<circle cx="542.2" cy="160.8" r="2.55"/>
<circle cx="337.3" cy="141.3" r="2.55"/>
<circle cx="405.6" cy="148.7" r="2.55"/>
<circle cx="473.9" cy="147.9" r="2.55"/>
<circle cx="542.2" cy="160.8" r="2.55"/>
<circle cx="337.3" cy="139.5" r="2.55"/>
<circle cx="405.6" cy="145.3" r="2.55"/>
<circle cx="473.9" cy="149.5" r="2.55"/>
<circle cx="542.2" cy="160.8" r="2.55"/>
<circle cx="337.3" cy="141.4" r="2.55"/>
<circle cx="405.6" cy="145.0" r="2.55"/>
<circle cx="473.9" cy="150.6" r="2.55"/>
<circle cx="542.2" cy="161.6" r="2.55"/>
<circle cx="337.3" cy="139.8" r="2.55"/>
<circle cx="405.6" cy="146.1" r="2.55"/>
<circle cx="473.9" cy="150.0" r="2.55"/>
<circle cx="542.2" cy="162.1" r="2.55"/>
<circle cx="337.3" cy="139.6" r="2.55"/>
<circle cx="405.6" cy="145.2" r="2.55"/>
<circle cx="473.9" cy="148.1" r="2.55"/>
<circle cx="542.2" cy="161.0" r="2.55"/>
<circle cx="337.3" cy="139.5" r="2.55"/>
<circle cx="405.6" cy="145.0" r="2.55"/>
<circle cx="473.9" cy="147.9" r="2.55"/>
<circle cx="542.2" cy="160.8" r="2.55"/>
</g>
<g stroke="#1b1b86" stroke-width="1.3" fill="#fff">
<circle cx="337.3" cy="139.8" r="2.5"/>
<circle cx="337.3" cy="144.7" r="2.5"/>
<circle cx="405.6" cy="157.6" r="2.5"/>
<circle cx="405.6" cy="145.0" r="2.5"/>
<circle cx="405.6" cy="155.0" r="2.5"/>
<circle cx="405.6" cy="152.9" r="2.5"/>
<circle cx="405.6" cy="150.0" r="2.5"/>
<circle cx="405.6" cy="147.7" r="2.5"/>
<circle cx="473.9" cy="159.5" r="2.5"/>
<circle cx="473.9" cy="147.9" r="2.5"/>
<circle cx="473.9" cy="157.1" r="2.5"/>
<circle cx="473.9" cy="154.4" r="2.5"/>
<circle cx="473.9" cy="152.2" r="2.5"/>
<circle cx="473.9" cy="150.7" r="2.5"/>
<circle cx="542.2" cy="168.9" r="2.5"/>
<circle cx="542.2" cy="160.8" r="2.5"/>
<circle cx="542.2" cy="167.0" r="2.5"/>
<circle cx="542.2" cy="165.4" r="2.5"/>
<circle cx="542.2" cy="164.3" r="2.5"/>
<circle cx="542.2" cy="162.5" r="2.5"/>
</g>
<rect x="337.3" y="199.8" width="204.90000000000003" height="161.59999999999997" fill="none" stroke="#3c3c3c" stroke-width="1.1"/>
<g stroke="#333" stroke-width="1">
<path d="M337.3 361.4 v-2.4 M337.3 199.8 v2.4"/>
<path d="M405.6 361.4 v-2.4 M405.6 199.8 v2.4"/>
<path d="M473.9 361.4 v-2.4 M473.9 199.8 v2.4"/>
<path d="M542.2 361.4 v-2.4 M542.2 199.8 v2.4"/>
<path d="M337.3 361.4 h2.4 M542.2 361.4 h-2.4"/>
<path d="M337.3 329.1 h2.4 M542.2 329.1 h-2.4"/>
<path d="M337.3 296.8 h2.4 M542.2 296.8 h-2.4"/>
<path d="M337.3 264.4 h2.4 M542.2 264.4 h-2.4"/>
<path d="M337.3 232.1 h2.4 M542.2 232.1 h-2.4"/>
<path d="M337.3 199.8 h2.4 M542.2 199.8 h-2.4"/>
</g>
<g class="se tk" font-size="9.2" text-anchor="end">
<text x="333.9" y="364.0">0</text>
<text x="333.9" y="331.7">0.2</text>
<text x="333.9" y="299.4">0.4</text>
<text x="333.9" y="267.0">0.6</text>
<text x="333.9" y="234.7">0.8</text>
<text x="333.9" y="202.4">1</text>
</g>
<text class="se tk" x="334.0" y="372.9" font-size="10.6">t</text>
<text class="se tk" x="336.7" y="376.7" font-size="7.2">0</text>
<text class="se tk" x="402.3" y="372.9" font-size="10.6">t</text>
<text class="se tk" x="405.0" y="376.7" font-size="7.2">1</text>
<text class="se tk" x="470.6" y="372.9" font-size="10.6">t</text>
<text class="se tk" x="473.3" y="376.7" font-size="7.2">2</text>
<text class="se tk" x="538.9" y="372.9" font-size="10.6">t</text>
<text class="se tk" x="541.6" y="376.7" font-size="7.2">3</text>
<text class="se tk" transform="translate(316.9 280.9) rotate(-90)" font-size="9" text-anchor="middle">normalized MAC output</text>
<polygon fill="#f5865d" points="337.3,243.5 405.6,241.3 473.9,239.4 542.2,238.2 542.2,263.2 473.9,261.2 405.6,260.7 337.3,250.9"/>
<g stroke="#f5865d" stroke-width="1.1" fill="none" stroke-linejoin="round">
<polyline points="337.3,251.8 405.6,263.1 473.9,264.0 542.2,266.4"/>
<polyline points="337.3,251.7 405.6,262.7 473.9,263.5 542.2,265.8"/>
<polyline points="337.3,249.7 405.6,257.5 473.9,264.0 542.2,266.4"/>
<polyline points="337.3,250.0 405.6,259.3 473.9,260.4 542.2,266.4"/>
<polyline points="337.3,250.7 405.6,260.2 473.9,261.0 542.2,266.4"/>
<polyline points="337.3,251.3 405.6,262.1 473.9,258.8 542.2,256.7"/>
<polyline points="337.3,249.0 405.6,260.0 473.9,261.6 542.2,266.2"/>
<polyline points="337.3,251.8 405.6,263.1 473.9,260.9 542.2,264.9"/>
<polyline points="337.3,251.0 405.6,255.4 473.9,259.7 542.2,261.0"/>
<polyline points="337.3,251.4 405.6,263.1 473.9,261.6 542.2,266.3"/>
<polyline points="337.3,250.1 405.6,253.4 473.9,256.9 542.2,265.1"/>
<polyline points="337.3,248.4 405.6,255.1 473.9,255.7 542.2,254.5"/>
<polyline points="337.3,248.8 405.6,254.8 473.9,259.8 542.2,252.9"/>
<polyline points="337.3,247.8 405.6,261.0 473.9,254.4 542.2,256.0"/>
<polyline points="337.3,249.6 405.6,256.7 473.9,257.1 542.2,252.5"/>
<polyline points="337.3,249.3 405.6,253.0 473.9,258.3 542.2,252.5"/>
<polyline points="337.3,247.5 405.6,256.5 473.9,255.2 542.2,251.5"/>
<polyline points="337.3,248.1 405.6,255.8 473.9,258.9 542.2,259.1"/>
<polyline points="337.3,248.0 405.6,258.8 473.9,250.1 542.2,259.3"/>
<polyline points="337.3,247.0 405.6,256.8 473.9,249.0 542.2,252.7"/>
<polyline points="337.3,248.5 405.6,254.1 473.9,252.2 542.2,253.8"/>
<polyline points="337.3,249.1 405.6,257.0 473.9,253.4 542.2,248.4"/>
<polyline points="337.3,247.7 405.6,258.0 473.9,249.2 542.2,250.7"/>
<polyline points="337.3,246.3 405.6,256.3 473.9,249.6 542.2,259.4"/>
<polyline points="337.3,247.2 405.6,255.0 473.9,255.3 542.2,247.5"/>
<polyline points="337.3,249.2 405.6,251.9 473.9,247.3 542.2,255.6"/>
<polyline points="337.3,248.7 405.6,247.6 473.9,252.0 542.2,248.6"/>
<polyline points="337.3,249.2 405.6,252.7 473.9,254.5 542.2,248.6"/>
<polyline points="337.3,248.8 405.6,246.0 473.9,255.8 542.2,247.3"/>
<polyline points="337.3,248.9 405.6,253.0 473.9,245.8 542.2,254.6"/>
<polyline points="337.3,248.1 405.6,247.9 473.9,250.4 542.2,255.6"/>
<polyline points="337.3,244.7 405.6,253.2 473.9,254.1 542.2,250.9"/>
<polyline points="337.3,246.0 405.6,246.5 473.9,252.7 542.2,250.4"/>
<polyline points="337.3,248.2 405.6,249.2 473.9,244.4 542.2,244.3"/>
<polyline points="337.3,244.5 405.6,245.4 473.9,242.7 542.2,244.2"/>
<polyline points="337.3,246.1 405.6,250.6 473.9,244.6 542.2,249.0"/>
<polyline points="337.3,247.4 405.6,247.8 473.9,241.6 542.2,251.0"/>
<polyline points="337.3,245.3 405.6,248.0 473.9,245.4 542.2,250.2"/>
<polyline points="337.3,243.6 405.6,249.0 473.9,243.8 542.2,245.8"/>
<polyline points="337.3,247.3 405.6,245.3 473.9,248.9 542.2,250.3"/>
<polyline points="337.3,247.0 405.6,249.1 473.9,248.9 542.2,241.7"/>
<polyline points="337.3,244.9 405.6,239.9 473.9,238.4 542.2,236.2"/>
<polyline points="337.3,245.9 405.6,245.2 473.9,246.1 542.2,241.2"/>
<polyline points="337.3,244.1 405.6,241.0 473.9,240.1 542.2,245.2"/>
<polyline points="337.3,244.8 405.6,243.5 473.9,248.1 542.2,247.7"/>
<polyline points="337.3,244.7 405.6,247.5 473.9,238.9 542.2,244.3"/>
<polyline points="337.3,245.8 405.6,246.3 473.9,244.3 542.2,244.1"/>
<polyline points="337.3,243.9 405.6,242.8 473.9,242.9 542.2,237.6"/>
<polyline points="337.3,245.0 405.6,238.9 473.9,236.6 542.2,235.9"/>
<polyline points="337.3,243.9 405.6,241.4 473.9,238.6 542.2,244.6"/>
<polyline points="337.3,243.8 405.6,240.8 473.9,243.0 542.2,243.5"/>
<polyline points="337.3,242.6 405.6,242.1 473.9,238.4 542.2,235.0"/>
<polyline points="337.3,242.7 405.6,242.5 473.9,236.6 542.2,238.5"/>
<polyline points="337.3,244.9 405.6,238.9 473.9,242.4 542.2,238.8"/>
<polyline points="337.3,242.8 405.6,239.3 473.9,237.1 542.2,235.6"/>
<polyline points="337.3,242.6 405.6,238.9 473.9,236.6 542.2,235.0"/>
</g>
<g stroke="#f5865d" stroke-width="1.3" fill="none">
<circle cx="337.3" cy="251.8" r="2.55"/>
<circle cx="405.6" cy="263.1" r="2.55"/>
<circle cx="473.9" cy="264.0" r="2.55"/>
<circle cx="542.2" cy="266.4" r="2.55"/>
<circle cx="337.3" cy="251.7" r="2.55"/>
<circle cx="405.6" cy="262.7" r="2.55"/>
<circle cx="473.9" cy="263.5" r="2.55"/>
<circle cx="542.2" cy="265.8" r="2.55"/>
<circle cx="337.3" cy="249.7" r="2.55"/>
<circle cx="405.6" cy="257.5" r="2.55"/>
<circle cx="473.9" cy="264.0" r="2.55"/>
<circle cx="542.2" cy="266.4" r="2.55"/>
<circle cx="337.3" cy="250.0" r="2.55"/>
<circle cx="405.6" cy="259.3" r="2.55"/>
<circle cx="473.9" cy="260.4" r="2.55"/>
<circle cx="542.2" cy="266.4" r="2.55"/>
<circle cx="337.3" cy="250.7" r="2.55"/>
<circle cx="405.6" cy="260.2" r="2.55"/>
<circle cx="473.9" cy="261.0" r="2.55"/>
<circle cx="542.2" cy="266.4" r="2.55"/>
<circle cx="337.3" cy="251.3" r="2.55"/>
<circle cx="405.6" cy="262.1" r="2.55"/>
<circle cx="473.9" cy="258.8" r="2.55"/>
<circle cx="542.2" cy="256.7" r="2.55"/>
<circle cx="337.3" cy="249.0" r="2.55"/>
<circle cx="405.6" cy="260.0" r="2.55"/>
<circle cx="473.9" cy="261.6" r="2.55"/>
<circle cx="542.2" cy="266.2" r="2.55"/>
<circle cx="337.3" cy="251.8" r="2.55"/>
<circle cx="405.6" cy="263.1" r="2.55"/>
<circle cx="473.9" cy="260.9" r="2.55"/>
<circle cx="542.2" cy="264.9" r="2.55"/>
<circle cx="337.3" cy="251.0" r="2.55"/>
<circle cx="405.6" cy="255.4" r="2.55"/>
<circle cx="473.9" cy="259.7" r="2.55"/>
<circle cx="542.2" cy="261.0" r="2.55"/>
<circle cx="337.3" cy="251.4" r="2.55"/>
<circle cx="405.6" cy="263.1" r="2.55"/>
<circle cx="473.9" cy="261.6" r="2.55"/>
<circle cx="542.2" cy="266.3" r="2.55"/>
<circle cx="337.3" cy="250.1" r="2.55"/>
<circle cx="405.6" cy="253.4" r="2.55"/>
<circle cx="473.9" cy="256.9" r="2.55"/>
<circle cx="542.2" cy="265.1" r="2.55"/>
<circle cx="337.3" cy="248.4" r="2.55"/>
<circle cx="405.6" cy="255.1" r="2.55"/>
<circle cx="473.9" cy="255.7" r="2.55"/>
<circle cx="542.2" cy="254.5" r="2.55"/>
<circle cx="337.3" cy="248.8" r="2.55"/>
<circle cx="405.6" cy="254.8" r="2.55"/>
<circle cx="473.9" cy="259.8" r="2.55"/>
<circle cx="542.2" cy="252.9" r="2.55"/>
<circle cx="337.3" cy="247.8" r="2.55"/>
<circle cx="405.6" cy="261.0" r="2.55"/>
<circle cx="473.9" cy="254.4" r="2.55"/>
<circle cx="542.2" cy="256.0" r="2.55"/>
<circle cx="337.3" cy="249.6" r="2.55"/>
<circle cx="405.6" cy="256.7" r="2.55"/>
<circle cx="473.9" cy="257.1" r="2.55"/>
<circle cx="542.2" cy="252.5" r="2.55"/>
<circle cx="337.3" cy="249.3" r="2.55"/>
<circle cx="405.6" cy="253.0" r="2.55"/>
<circle cx="473.9" cy="258.3" r="2.55"/>
<circle cx="542.2" cy="252.5" r="2.55"/>
<circle cx="337.3" cy="247.5" r="2.55"/>
<circle cx="405.6" cy="256.5" r="2.55"/>
<circle cx="473.9" cy="255.2" r="2.55"/>
<circle cx="542.2" cy="251.5" r="2.55"/>
<circle cx="337.3" cy="248.1" r="2.55"/>
<circle cx="405.6" cy="255.8" r="2.55"/>
<circle cx="473.9" cy="258.9" r="2.55"/>
<circle cx="542.2" cy="259.1" r="2.55"/>
<circle cx="337.3" cy="248.0" r="2.55"/>
<circle cx="405.6" cy="258.8" r="2.55"/>
<circle cx="473.9" cy="250.1" r="2.55"/>
<circle cx="542.2" cy="259.3" r="2.55"/>
<circle cx="337.3" cy="247.0" r="2.55"/>
<circle cx="405.6" cy="256.8" r="2.55"/>
<circle cx="473.9" cy="249.0" r="2.55"/>
<circle cx="542.2" cy="252.7" r="2.55"/>
<circle cx="337.3" cy="248.5" r="2.55"/>
<circle cx="405.6" cy="254.1" r="2.55"/>
<circle cx="473.9" cy="252.2" r="2.55"/>
<circle cx="542.2" cy="253.8" r="2.55"/>
<circle cx="337.3" cy="249.1" r="2.55"/>
<circle cx="405.6" cy="257.0" r="2.55"/>
<circle cx="473.9" cy="253.4" r="2.55"/>
<circle cx="542.2" cy="248.4" r="2.55"/>
<circle cx="337.3" cy="247.7" r="2.55"/>
<circle cx="405.6" cy="258.0" r="2.55"/>
<circle cx="473.9" cy="249.2" r="2.55"/>
<circle cx="542.2" cy="250.7" r="2.55"/>
<circle cx="337.3" cy="246.3" r="2.55"/>
<circle cx="405.6" cy="256.3" r="2.55"/>
<circle cx="473.9" cy="249.6" r="2.55"/>
<circle cx="542.2" cy="259.4" r="2.55"/>
<circle cx="337.3" cy="247.2" r="2.55"/>
<circle cx="405.6" cy="255.0" r="2.55"/>
<circle cx="473.9" cy="255.3" r="2.55"/>
<circle cx="542.2" cy="247.5" r="2.55"/>
<circle cx="337.3" cy="249.2" r="2.55"/>
<circle cx="405.6" cy="251.9" r="2.55"/>
<circle cx="473.9" cy="247.3" r="2.55"/>
<circle cx="542.2" cy="255.6" r="2.55"/>
<circle cx="337.3" cy="248.7" r="2.55"/>
<circle cx="405.6" cy="247.6" r="2.55"/>
<circle cx="473.9" cy="252.0" r="2.55"/>
<circle cx="542.2" cy="248.6" r="2.55"/>
<circle cx="337.3" cy="249.2" r="2.55"/>
<circle cx="405.6" cy="252.7" r="2.55"/>
<circle cx="473.9" cy="254.5" r="2.55"/>
<circle cx="542.2" cy="248.6" r="2.55"/>
<circle cx="337.3" cy="248.8" r="2.55"/>
<circle cx="405.6" cy="246.0" r="2.55"/>
<circle cx="473.9" cy="255.8" r="2.55"/>
<circle cx="542.2" cy="247.3" r="2.55"/>
<circle cx="337.3" cy="248.9" r="2.55"/>
<circle cx="405.6" cy="253.0" r="2.55"/>
<circle cx="473.9" cy="245.8" r="2.55"/>
<circle cx="542.2" cy="254.6" r="2.55"/>
<circle cx="337.3" cy="248.1" r="2.55"/>
<circle cx="405.6" cy="247.9" r="2.55"/>
<circle cx="473.9" cy="250.4" r="2.55"/>
<circle cx="542.2" cy="255.6" r="2.55"/>
<circle cx="337.3" cy="244.7" r="2.55"/>
<circle cx="405.6" cy="253.2" r="2.55"/>
<circle cx="473.9" cy="254.1" r="2.55"/>
<circle cx="542.2" cy="250.9" r="2.55"/>
<circle cx="337.3" cy="246.0" r="2.55"/>
<circle cx="405.6" cy="246.5" r="2.55"/>
<circle cx="473.9" cy="252.7" r="2.55"/>
<circle cx="542.2" cy="250.4" r="2.55"/>
<circle cx="337.3" cy="248.2" r="2.55"/>
<circle cx="405.6" cy="249.2" r="2.55"/>
<circle cx="473.9" cy="244.4" r="2.55"/>
<circle cx="542.2" cy="244.3" r="2.55"/>
<circle cx="337.3" cy="244.5" r="2.55"/>
<circle cx="405.6" cy="245.4" r="2.55"/>
<circle cx="473.9" cy="242.7" r="2.55"/>
<circle cx="542.2" cy="244.2" r="2.55"/>
<circle cx="337.3" cy="246.1" r="2.55"/>
<circle cx="405.6" cy="250.6" r="2.55"/>
<circle cx="473.9" cy="244.6" r="2.55"/>
<circle cx="542.2" cy="249.0" r="2.55"/>
<circle cx="337.3" cy="247.4" r="2.55"/>
<circle cx="405.6" cy="247.8" r="2.55"/>
<circle cx="473.9" cy="241.6" r="2.55"/>
<circle cx="542.2" cy="251.0" r="2.55"/>
<circle cx="337.3" cy="245.3" r="2.55"/>
<circle cx="405.6" cy="248.0" r="2.55"/>
<circle cx="473.9" cy="245.4" r="2.55"/>
<circle cx="542.2" cy="250.2" r="2.55"/>
<circle cx="337.3" cy="243.6" r="2.55"/>
<circle cx="405.6" cy="249.0" r="2.55"/>
<circle cx="473.9" cy="243.8" r="2.55"/>
<circle cx="542.2" cy="245.8" r="2.55"/>
<circle cx="337.3" cy="247.3" r="2.55"/>
<circle cx="405.6" cy="245.3" r="2.55"/>
<circle cx="473.9" cy="248.9" r="2.55"/>
<circle cx="542.2" cy="250.3" r="2.55"/>
<circle cx="337.3" cy="247.0" r="2.55"/>
<circle cx="405.6" cy="249.1" r="2.55"/>
<circle cx="473.9" cy="248.9" r="2.55"/>
<circle cx="542.2" cy="241.7" r="2.55"/>
<circle cx="337.3" cy="244.9" r="2.55"/>
<circle cx="405.6" cy="239.9" r="2.55"/>
<circle cx="473.9" cy="238.4" r="2.55"/>
<circle cx="542.2" cy="236.2" r="2.55"/>
<circle cx="337.3" cy="245.9" r="2.55"/>
<circle cx="405.6" cy="245.2" r="2.55"/>
<circle cx="473.9" cy="246.1" r="2.55"/>
<circle cx="542.2" cy="241.2" r="2.55"/>
<circle cx="337.3" cy="244.1" r="2.55"/>
<circle cx="405.6" cy="241.0" r="2.55"/>
<circle cx="473.9" cy="240.1" r="2.55"/>
<circle cx="542.2" cy="245.2" r="2.55"/>
<circle cx="337.3" cy="244.8" r="2.55"/>
<circle cx="405.6" cy="243.5" r="2.55"/>
<circle cx="473.9" cy="248.1" r="2.55"/>
<circle cx="542.2" cy="247.7" r="2.55"/>
<circle cx="337.3" cy="244.7" r="2.55"/>
<circle cx="405.6" cy="247.5" r="2.55"/>
<circle cx="473.9" cy="238.9" r="2.55"/>
<circle cx="542.2" cy="244.3" r="2.55"/>
<circle cx="337.3" cy="245.8" r="2.55"/>
<circle cx="405.6" cy="246.3" r="2.55"/>
<circle cx="473.9" cy="244.3" r="2.55"/>
<circle cx="542.2" cy="244.1" r="2.55"/>
<circle cx="337.3" cy="243.9" r="2.55"/>
<circle cx="405.6" cy="242.8" r="2.55"/>
<circle cx="473.9" cy="242.9" r="2.55"/>
<circle cx="542.2" cy="237.6" r="2.55"/>
<circle cx="337.3" cy="245.0" r="2.55"/>
<circle cx="405.6" cy="238.9" r="2.55"/>
<circle cx="473.9" cy="236.6" r="2.55"/>
<circle cx="542.2" cy="235.9" r="2.55"/>
<circle cx="337.3" cy="243.9" r="2.55"/>
<circle cx="405.6" cy="241.4" r="2.55"/>
<circle cx="473.9" cy="238.6" r="2.55"/>
<circle cx="542.2" cy="244.6" r="2.55"/>
<circle cx="337.3" cy="243.8" r="2.55"/>
<circle cx="405.6" cy="240.8" r="2.55"/>
<circle cx="473.9" cy="243.0" r="2.55"/>
<circle cx="542.2" cy="243.5" r="2.55"/>
<circle cx="337.3" cy="242.6" r="2.55"/>
<circle cx="405.6" cy="242.1" r="2.55"/>
<circle cx="473.9" cy="238.4" r="2.55"/>
<circle cx="542.2" cy="235.0" r="2.55"/>
<circle cx="337.3" cy="242.7" r="2.55"/>
<circle cx="405.6" cy="242.5" r="2.55"/>
<circle cx="473.9" cy="236.6" r="2.55"/>
<circle cx="542.2" cy="238.5" r="2.55"/>
<circle cx="337.3" cy="244.9" r="2.55"/>
<circle cx="405.6" cy="238.9" r="2.55"/>
<circle cx="473.9" cy="242.4" r="2.55"/>
<circle cx="542.2" cy="238.8" r="2.55"/>
<circle cx="337.3" cy="242.8" r="2.55"/>
<circle cx="405.6" cy="239.3" r="2.55"/>
<circle cx="473.9" cy="237.1" r="2.55"/>
<circle cx="542.2" cy="235.6" r="2.55"/>
<circle cx="337.3" cy="242.6" r="2.55"/>
<circle cx="405.6" cy="238.9" r="2.55"/>
<circle cx="473.9" cy="236.6" r="2.55"/>
<circle cx="542.2" cy="235.0" r="2.55"/>
</g>
<g stroke="#f5865d" stroke-width="1.3" fill="#fff">
<circle cx="337.3" cy="243.0" r="2.5"/>
<circle cx="337.3" cy="248.2" r="2.5"/>
<circle cx="405.6" cy="263.1" r="2.5"/>
<circle cx="405.6" cy="238.9" r="2.5"/>
<circle cx="405.6" cy="259.5" r="2.5"/>
<circle cx="405.6" cy="253.6" r="2.5"/>
<circle cx="405.6" cy="249.3" r="2.5"/>
<circle cx="405.6" cy="243.8" r="2.5"/>
<circle cx="473.9" cy="264.0" r="2.5"/>
<circle cx="473.9" cy="236.6" r="2.5"/>
<circle cx="473.9" cy="259.3" r="2.5"/>
<circle cx="473.9" cy="252.8" r="2.5"/>
<circle cx="473.9" cy="249.3" r="2.5"/>
<circle cx="473.9" cy="242.7" r="2.5"/>
<circle cx="542.2" cy="266.4" r="2.5"/>
<circle cx="542.2" cy="235.0" r="2.5"/>
<circle cx="542.2" cy="260.5" r="2.5"/>
<circle cx="542.2" cy="252.5" r="2.5"/>
<circle cx="542.2" cy="249.5" r="2.5"/>
<circle cx="542.2" cy="240.5" r="2.5"/>
</g>
<polygon fill="#b04fc4" points="337.3,293.2 405.6,298.5 473.9,293.0 542.2,292.1 542.2,317.2 473.9,315.6 405.6,315.3 337.3,300.7"/>
<g stroke="#b04fc4" stroke-width="1.1" fill="none" stroke-linejoin="round">
<polyline points="337.3,301.6 405.6,317.4 473.9,318.4 542.2,320.4"/>
<polyline points="337.3,301.4 405.6,317.1 473.9,317.9 542.2,319.8"/>
<polyline points="337.3,301.6 405.6,316.0 473.9,318.4 542.2,319.7"/>
<polyline points="337.3,300.1 405.6,317.3 473.9,318.4 542.2,320.4"/>
<polyline points="337.3,301.6 405.6,312.7 473.9,314.6 542.2,311.7"/>
<polyline points="337.3,300.0 405.6,317.4 473.9,313.9 542.2,313.7"/>
<polyline points="337.3,299.7 405.6,315.2 473.9,317.1 542.2,317.5"/>
<polyline points="337.3,299.2 405.6,316.9 473.9,314.5 542.2,316.7"/>
<polyline points="337.3,298.4 405.6,311.6 473.9,308.9 542.2,311.2"/>
<polyline points="337.3,300.9 405.6,316.5 473.9,313.9 542.2,318.5"/>
<polyline points="337.3,300.2 405.6,312.0 473.9,308.1 542.2,313.5"/>
<polyline points="337.3,298.4 405.6,317.0 473.9,314.5 542.2,307.2"/>
<polyline points="337.3,301.0 405.6,313.6 473.9,317.6 542.2,319.2"/>
<polyline points="337.3,297.8 405.6,308.0 473.9,309.9 542.2,318.1"/>
<polyline points="337.3,300.1 405.6,314.6 473.9,309.1 542.2,309.9"/>
<polyline points="337.3,299.3 405.6,311.5 473.9,315.5 542.2,311.2"/>
<polyline points="337.3,297.0 405.6,309.0 473.9,315.2 542.2,311.0"/>
<polyline points="337.3,297.8 405.6,313.2 473.9,304.8 542.2,311.2"/>
<polyline points="337.3,297.7 405.6,311.5 473.9,303.0 542.2,306.2"/>
<polyline points="337.3,298.1 405.6,313.5 473.9,309.4 542.2,316.0"/>
<polyline points="337.3,297.8 405.6,306.3 473.9,312.1 542.2,308.8"/>
<polyline points="337.3,298.1 405.6,310.3 473.9,305.0 542.2,302.4"/>
<polyline points="337.3,297.0 405.6,309.3 473.9,301.4 542.2,310.1"/>
<polyline points="337.3,296.7 405.6,307.2 473.9,303.3 542.2,302.4"/>
<polyline points="337.3,298.7 405.6,307.2 473.9,307.3 542.2,304.4"/>
<polyline points="337.3,295.4 405.6,306.6 473.9,311.6 542.2,306.6"/>
<polyline points="337.3,296.3 405.6,304.0 473.9,303.2 542.2,301.2"/>
<polyline points="337.3,299.0 405.6,303.0 473.9,301.7 542.2,303.5"/>
<polyline points="337.3,295.2 405.6,303.2 473.9,309.0 542.2,300.0"/>
<polyline points="337.3,295.6 405.6,309.1 473.9,300.5 542.2,302.6"/>
<polyline points="337.3,297.8 405.6,303.2 473.9,307.5 542.2,301.7"/>
<polyline points="337.3,296.6 405.6,307.9 473.9,301.7 542.2,303.1"/>
<polyline points="337.3,297.4 405.6,300.9 473.9,307.3 542.2,309.0"/>
<polyline points="337.3,296.0 405.6,301.7 473.9,299.5 542.2,298.0"/>
<polyline points="337.3,295.9 405.6,302.8 473.9,303.0 542.2,304.2"/>
<polyline points="337.3,295.6 405.6,308.4 473.9,305.6 542.2,296.9"/>
<polyline points="337.3,296.8 405.6,301.4 473.9,296.4 542.2,301.2"/>
<polyline points="337.3,294.6 405.6,300.7 473.9,294.9 542.2,304.3"/>
<polyline points="337.3,296.5 405.6,304.0 473.9,299.3 542.2,301.5"/>
<polyline points="337.3,297.0 405.6,302.0 473.9,292.6 542.2,300.0"/>
<polyline points="337.3,294.6 405.6,303.3 473.9,298.6 542.2,292.4"/>
<polyline points="337.3,295.4 405.6,300.4 473.9,297.5 542.2,296.5"/>
<polyline points="337.3,292.7 405.6,305.3 473.9,292.8 542.2,299.1"/>
<polyline points="337.3,293.7 405.6,298.3 473.9,294.4 542.2,297.3"/>
<polyline points="337.3,292.7 405.6,304.4 473.9,294.1 542.2,296.8"/>
<polyline points="337.3,293.8 405.6,297.0 473.9,291.6 542.2,292.9"/>
<polyline points="337.3,294.6 405.6,302.3 473.9,295.3 542.2,297.8"/>
<polyline points="337.3,294.5 405.6,296.4 473.9,299.1 542.2,289.2"/>
<polyline points="337.3,293.9 405.6,300.4 473.9,296.0 542.2,298.8"/>
<polyline points="337.3,293.4 405.6,301.8 473.9,293.9 542.2,295.3"/>
<polyline points="337.3,292.2 405.6,296.4 473.9,293.4 542.2,289.9"/>
<polyline points="337.3,292.2 405.6,299.6 473.9,297.2 542.2,294.9"/>
<polyline points="337.3,294.0 405.6,296.4 473.9,293.2 542.2,292.7"/>
<polyline points="337.3,292.2 405.6,299.7 473.9,290.1 542.2,289.0"/>
<polyline points="337.3,292.4 405.6,296.8 473.9,290.6 542.2,289.6"/>
<polyline points="337.3,292.2 405.6,296.4 473.9,290.1 542.2,289.0"/>
<polyline points="337.3,292.2 405.6,291.1 473.9,290.9 542.2,290.3"/>
</g>
<g stroke="#b04fc4" stroke-width="1.3" fill="none">
<circle cx="337.3" cy="301.6" r="2.55"/>
<circle cx="405.6" cy="317.4" r="2.55"/>
<circle cx="473.9" cy="318.4" r="2.55"/>
<circle cx="542.2" cy="320.4" r="2.55"/>
<circle cx="337.3" cy="301.4" r="2.55"/>
<circle cx="405.6" cy="317.1" r="2.55"/>
<circle cx="473.9" cy="317.9" r="2.55"/>
<circle cx="542.2" cy="319.8" r="2.55"/>
<circle cx="337.3" cy="301.6" r="2.55"/>
<circle cx="405.6" cy="316.0" r="2.55"/>
<circle cx="473.9" cy="318.4" r="2.55"/>
<circle cx="542.2" cy="319.7" r="2.55"/>
<circle cx="337.3" cy="300.1" r="2.55"/>
<circle cx="405.6" cy="317.3" r="2.55"/>
<circle cx="473.9" cy="318.4" r="2.55"/>
<circle cx="542.2" cy="320.4" r="2.55"/>
<circle cx="337.3" cy="301.6" r="2.55"/>
<circle cx="405.6" cy="312.7" r="2.55"/>
<circle cx="473.9" cy="314.6" r="2.55"/>
<circle cx="542.2" cy="311.7" r="2.55"/>
<circle cx="337.3" cy="300.0" r="2.55"/>
<circle cx="405.6" cy="317.4" r="2.55"/>
<circle cx="473.9" cy="313.9" r="2.55"/>
<circle cx="542.2" cy="313.7" r="2.55"/>
<circle cx="337.3" cy="299.7" r="2.55"/>
<circle cx="405.6" cy="315.2" r="2.55"/>
<circle cx="473.9" cy="317.1" r="2.55"/>
<circle cx="542.2" cy="317.5" r="2.55"/>
<circle cx="337.3" cy="299.2" r="2.55"/>
<circle cx="405.6" cy="316.9" r="2.55"/>
<circle cx="473.9" cy="314.5" r="2.55"/>
<circle cx="542.2" cy="316.7" r="2.55"/>
<circle cx="337.3" cy="298.4" r="2.55"/>
<circle cx="405.6" cy="311.6" r="2.55"/>
<circle cx="473.9" cy="308.9" r="2.55"/>
<circle cx="542.2" cy="311.2" r="2.55"/>
<circle cx="337.3" cy="300.9" r="2.55"/>
<circle cx="405.6" cy="316.5" r="2.55"/>
<circle cx="473.9" cy="313.9" r="2.55"/>
<circle cx="542.2" cy="318.5" r="2.55"/>
<circle cx="337.3" cy="300.2" r="2.55"/>
<circle cx="405.6" cy="312.0" r="2.55"/>
<circle cx="473.9" cy="308.1" r="2.55"/>
<circle cx="542.2" cy="313.5" r="2.55"/>
<circle cx="337.3" cy="298.4" r="2.55"/>
<circle cx="405.6" cy="317.0" r="2.55"/>
<circle cx="473.9" cy="314.5" r="2.55"/>
<circle cx="542.2" cy="307.2" r="2.55"/>
<circle cx="337.3" cy="301.0" r="2.55"/>
<circle cx="405.6" cy="313.6" r="2.55"/>
<circle cx="473.9" cy="317.6" r="2.55"/>
<circle cx="542.2" cy="319.2" r="2.55"/>
<circle cx="337.3" cy="297.8" r="2.55"/>
<circle cx="405.6" cy="308.0" r="2.55"/>
<circle cx="473.9" cy="309.9" r="2.55"/>
<circle cx="542.2" cy="318.1" r="2.55"/>
<circle cx="337.3" cy="300.1" r="2.55"/>
<circle cx="405.6" cy="314.6" r="2.55"/>
<circle cx="473.9" cy="309.1" r="2.55"/>
<circle cx="542.2" cy="309.9" r="2.55"/>
<circle cx="337.3" cy="299.3" r="2.55"/>
<circle cx="405.6" cy="311.5" r="2.55"/>
<circle cx="473.9" cy="315.5" r="2.55"/>
<circle cx="542.2" cy="311.2" r="2.55"/>
<circle cx="337.3" cy="297.0" r="2.55"/>
<circle cx="405.6" cy="309.0" r="2.55"/>
<circle cx="473.9" cy="315.2" r="2.55"/>
<circle cx="542.2" cy="311.0" r="2.55"/>
<circle cx="337.3" cy="297.8" r="2.55"/>
<circle cx="405.6" cy="313.2" r="2.55"/>
<circle cx="473.9" cy="304.8" r="2.55"/>
<circle cx="542.2" cy="311.2" r="2.55"/>
<circle cx="337.3" cy="297.7" r="2.55"/>
<circle cx="405.6" cy="311.5" r="2.55"/>
<circle cx="473.9" cy="303.0" r="2.55"/>
<circle cx="542.2" cy="306.2" r="2.55"/>
<circle cx="337.3" cy="298.1" r="2.55"/>
<circle cx="405.6" cy="313.5" r="2.55"/>
<circle cx="473.9" cy="309.4" r="2.55"/>
<circle cx="542.2" cy="316.0" r="2.55"/>
<circle cx="337.3" cy="297.8" r="2.55"/>
<circle cx="405.6" cy="306.3" r="2.55"/>
<circle cx="473.9" cy="312.1" r="2.55"/>
<circle cx="542.2" cy="308.8" r="2.55"/>
<circle cx="337.3" cy="298.1" r="2.55"/>
<circle cx="405.6" cy="310.3" r="2.55"/>
<circle cx="473.9" cy="305.0" r="2.55"/>
<circle cx="542.2" cy="302.4" r="2.55"/>
<circle cx="337.3" cy="297.0" r="2.55"/>
<circle cx="405.6" cy="309.3" r="2.55"/>
<circle cx="473.9" cy="301.4" r="2.55"/>
<circle cx="542.2" cy="310.1" r="2.55"/>
<circle cx="337.3" cy="296.7" r="2.55"/>
<circle cx="405.6" cy="307.2" r="2.55"/>
<circle cx="473.9" cy="303.3" r="2.55"/>
<circle cx="542.2" cy="302.4" r="2.55"/>
<circle cx="337.3" cy="298.7" r="2.55"/>
<circle cx="405.6" cy="307.2" r="2.55"/>
<circle cx="473.9" cy="307.3" r="2.55"/>
<circle cx="542.2" cy="304.4" r="2.55"/>
<circle cx="337.3" cy="295.4" r="2.55"/>
<circle cx="405.6" cy="306.6" r="2.55"/>
<circle cx="473.9" cy="311.6" r="2.55"/>
<circle cx="542.2" cy="306.6" r="2.55"/>
<circle cx="337.3" cy="296.3" r="2.55"/>
<circle cx="405.6" cy="304.0" r="2.55"/>
<circle cx="473.9" cy="303.2" r="2.55"/>
<circle cx="542.2" cy="301.2" r="2.55"/>
<circle cx="337.3" cy="299.0" r="2.55"/>
<circle cx="405.6" cy="303.0" r="2.55"/>
<circle cx="473.9" cy="301.7" r="2.55"/>
<circle cx="542.2" cy="303.5" r="2.55"/>
<circle cx="337.3" cy="295.2" r="2.55"/>
<circle cx="405.6" cy="303.2" r="2.55"/>
<circle cx="473.9" cy="309.0" r="2.55"/>
<circle cx="542.2" cy="300.0" r="2.55"/>
<circle cx="337.3" cy="295.6" r="2.55"/>
<circle cx="405.6" cy="309.1" r="2.55"/>
<circle cx="473.9" cy="300.5" r="2.55"/>
<circle cx="542.2" cy="302.6" r="2.55"/>
<circle cx="337.3" cy="297.8" r="2.55"/>
<circle cx="405.6" cy="303.2" r="2.55"/>
<circle cx="473.9" cy="307.5" r="2.55"/>
<circle cx="542.2" cy="301.7" r="2.55"/>
<circle cx="337.3" cy="296.6" r="2.55"/>
<circle cx="405.6" cy="307.9" r="2.55"/>
<circle cx="473.9" cy="301.7" r="2.55"/>
<circle cx="542.2" cy="303.1" r="2.55"/>
<circle cx="337.3" cy="297.4" r="2.55"/>
<circle cx="405.6" cy="300.9" r="2.55"/>
<circle cx="473.9" cy="307.3" r="2.55"/>
<circle cx="542.2" cy="309.0" r="2.55"/>
<circle cx="337.3" cy="296.0" r="2.55"/>
<circle cx="405.6" cy="301.7" r="2.55"/>
<circle cx="473.9" cy="299.5" r="2.55"/>
<circle cx="542.2" cy="298.0" r="2.55"/>
<circle cx="337.3" cy="295.9" r="2.55"/>
<circle cx="405.6" cy="302.8" r="2.55"/>
<circle cx="473.9" cy="303.0" r="2.55"/>
<circle cx="542.2" cy="304.2" r="2.55"/>
<circle cx="337.3" cy="295.6" r="2.55"/>
<circle cx="405.6" cy="308.4" r="2.55"/>
<circle cx="473.9" cy="305.6" r="2.55"/>
<circle cx="542.2" cy="296.9" r="2.55"/>
<circle cx="337.3" cy="296.8" r="2.55"/>
<circle cx="405.6" cy="301.4" r="2.55"/>
<circle cx="473.9" cy="296.4" r="2.55"/>
<circle cx="542.2" cy="301.2" r="2.55"/>
<circle cx="337.3" cy="294.6" r="2.55"/>
<circle cx="405.6" cy="300.7" r="2.55"/>
<circle cx="473.9" cy="294.9" r="2.55"/>
<circle cx="542.2" cy="304.3" r="2.55"/>
<circle cx="337.3" cy="296.5" r="2.55"/>
<circle cx="405.6" cy="304.0" r="2.55"/>
<circle cx="473.9" cy="299.3" r="2.55"/>
<circle cx="542.2" cy="301.5" r="2.55"/>
<circle cx="337.3" cy="297.0" r="2.55"/>
<circle cx="405.6" cy="302.0" r="2.55"/>
<circle cx="473.9" cy="292.6" r="2.55"/>
<circle cx="542.2" cy="300.0" r="2.55"/>
<circle cx="337.3" cy="294.6" r="2.55"/>
<circle cx="405.6" cy="303.3" r="2.55"/>
<circle cx="473.9" cy="298.6" r="2.55"/>
<circle cx="542.2" cy="292.4" r="2.55"/>
<circle cx="337.3" cy="295.4" r="2.55"/>
<circle cx="405.6" cy="300.4" r="2.55"/>
<circle cx="473.9" cy="297.5" r="2.55"/>
<circle cx="542.2" cy="296.5" r="2.55"/>
<circle cx="337.3" cy="292.7" r="2.55"/>
<circle cx="405.6" cy="305.3" r="2.55"/>
<circle cx="473.9" cy="292.8" r="2.55"/>
<circle cx="542.2" cy="299.1" r="2.55"/>
<circle cx="337.3" cy="293.7" r="2.55"/>
<circle cx="405.6" cy="298.3" r="2.55"/>
<circle cx="473.9" cy="294.4" r="2.55"/>
<circle cx="542.2" cy="297.3" r="2.55"/>
<circle cx="337.3" cy="292.7" r="2.55"/>
<circle cx="405.6" cy="304.4" r="2.55"/>
<circle cx="473.9" cy="294.1" r="2.55"/>
<circle cx="542.2" cy="296.8" r="2.55"/>
<circle cx="337.3" cy="293.8" r="2.55"/>
<circle cx="405.6" cy="297.0" r="2.55"/>
<circle cx="473.9" cy="291.6" r="2.55"/>
<circle cx="542.2" cy="292.9" r="2.55"/>
<circle cx="337.3" cy="294.6" r="2.55"/>
<circle cx="405.6" cy="302.3" r="2.55"/>
<circle cx="473.9" cy="295.3" r="2.55"/>
<circle cx="542.2" cy="297.8" r="2.55"/>
<circle cx="337.3" cy="294.5" r="2.55"/>
<circle cx="405.6" cy="296.4" r="2.55"/>
<circle cx="473.9" cy="299.1" r="2.55"/>
<circle cx="542.2" cy="289.2" r="2.55"/>
<circle cx="337.3" cy="293.9" r="2.55"/>
<circle cx="405.6" cy="300.4" r="2.55"/>
<circle cx="473.9" cy="296.0" r="2.55"/>
<circle cx="542.2" cy="298.8" r="2.55"/>
<circle cx="337.3" cy="293.4" r="2.55"/>
<circle cx="405.6" cy="301.8" r="2.55"/>
<circle cx="473.9" cy="293.9" r="2.55"/>
<circle cx="542.2" cy="295.3" r="2.55"/>
<circle cx="337.3" cy="292.2" r="2.55"/>
<circle cx="405.6" cy="296.4" r="2.55"/>
<circle cx="473.9" cy="293.4" r="2.55"/>
<circle cx="542.2" cy="289.9" r="2.55"/>
<circle cx="337.3" cy="292.2" r="2.55"/>
<circle cx="405.6" cy="299.6" r="2.55"/>
<circle cx="473.9" cy="297.2" r="2.55"/>
<circle cx="542.2" cy="294.9" r="2.55"/>
<circle cx="337.3" cy="294.0" r="2.55"/>
<circle cx="405.6" cy="296.4" r="2.55"/>
<circle cx="473.9" cy="293.2" r="2.55"/>
<circle cx="542.2" cy="292.7" r="2.55"/>
<circle cx="337.3" cy="292.2" r="2.55"/>
<circle cx="405.6" cy="299.7" r="2.55"/>
<circle cx="473.9" cy="290.1" r="2.55"/>
<circle cx="542.2" cy="289.0" r="2.55"/>
<circle cx="337.3" cy="292.4" r="2.55"/>
<circle cx="405.6" cy="296.8" r="2.55"/>
<circle cx="473.9" cy="290.6" r="2.55"/>
<circle cx="542.2" cy="289.6" r="2.55"/>
<circle cx="337.3" cy="292.2" r="2.55"/>
<circle cx="405.6" cy="296.4" r="2.55"/>
<circle cx="473.9" cy="290.1" r="2.55"/>
<circle cx="542.2" cy="289.0" r="2.55"/>
<circle cx="337.3" cy="292.2" r="2.55"/>
<circle cx="405.6" cy="291.1" r="2.55"/>
<circle cx="473.9" cy="290.9" r="2.55"/>
<circle cx="542.2" cy="290.3" r="2.55"/>
</g>
<g stroke="#b04fc4" stroke-width="1.3" fill="#fff">
<circle cx="337.3" cy="293.0" r="2.5"/>
<circle cx="337.3" cy="297.7" r="2.5"/>
<circle cx="337.3" cy="292.2" r="2.5"/>
<circle cx="405.6" cy="317.4" r="2.5"/>
<circle cx="405.6" cy="296.4" r="2.5"/>
<circle cx="405.6" cy="313.6" r="2.5"/>
<circle cx="405.6" cy="308.2" r="2.5"/>
<circle cx="405.6" cy="304.4" r="2.5"/>
<circle cx="405.6" cy="300.6" r="2.5"/>
<circle cx="405.6" cy="291.1" r="2.5"/>
<circle cx="473.9" cy="318.4" r="2.5"/>
<circle cx="473.9" cy="290.1" r="2.5"/>
<circle cx="473.9" cy="312.2" r="2.5"/>
<circle cx="473.9" cy="305.8" r="2.5"/>
<circle cx="473.9" cy="301.3" r="2.5"/>
<circle cx="473.9" cy="295.1" r="2.5"/>
<circle cx="473.9" cy="290.9" r="2.5"/>
<circle cx="542.2" cy="320.4" r="2.5"/>
<circle cx="542.2" cy="289.0" r="2.5"/>
<circle cx="542.2" cy="312.9" r="2.5"/>
<circle cx="542.2" cy="306.4" r="2.5"/>
<circle cx="542.2" cy="301.4" r="2.5"/>
<circle cx="542.2" cy="293.8" r="2.5"/>
<circle cx="542.2" cy="290.3" r="2.5"/>
</g>
<polygon fill="#1b1b86" points="337.3,331.2 405.6,333.4 473.9,331.4 542.2,329.4 542.2,350.1 473.9,350.3 405.6,348.8 337.3,337.9"/>
<g stroke="#1b1b86" stroke-width="1.1" fill="none" stroke-linejoin="round">
<polyline points="337.3,338.8 405.6,350.7 473.9,352.7 542.2,352.7"/>
<polyline points="337.3,338.6 405.6,350.4 473.9,352.2 542.2,352.2"/>
<polyline points="337.3,338.8 405.6,349.0 473.9,350.0 542.2,352.7"/>
<polyline points="337.3,338.7 405.6,350.7 473.9,346.6 542.2,352.7"/>
<polyline points="337.3,338.3 405.6,346.0 473.9,352.7 542.2,345.6"/>
<polyline points="337.3,338.8 405.6,350.7 473.9,352.1 542.2,351.9"/>
<polyline points="337.3,336.3 405.6,345.4 473.9,347.4 542.2,350.6"/>
<polyline points="337.3,337.5 405.6,350.5 473.9,346.2 542.2,350.6"/>
<polyline points="337.3,338.3 405.6,346.8 473.9,352.7 542.2,351.0"/>
<polyline points="337.3,335.8 405.6,350.7 473.9,352.5 542.2,351.8"/>
<polyline points="337.3,338.2 405.6,347.9 473.9,351.0 542.2,349.8"/>
<polyline points="337.3,338.0 405.6,349.1 473.9,346.8 542.2,349.4"/>
<polyline points="337.3,337.4 405.6,344.3 473.9,352.1 542.2,351.1"/>
<polyline points="337.3,335.5 405.6,346.8 473.9,344.2 542.2,350.7"/>
<polyline points="337.3,336.6 405.6,342.9 473.9,348.3 542.2,343.0"/>
<polyline points="337.3,336.1 405.6,346.4 473.9,341.1 542.2,346.8"/>
<polyline points="337.3,336.4 405.6,344.1 473.9,347.7 542.2,341.3"/>
<polyline points="337.3,335.8 405.6,344.0 473.9,345.0 542.2,339.2"/>
<polyline points="337.3,334.2 405.6,341.6 473.9,345.4 542.2,345.2"/>
<polyline points="337.3,335.8 405.6,347.9 473.9,348.6 542.2,338.1"/>
<polyline points="337.3,337.1 405.6,340.0 473.9,342.2 542.2,338.5"/>
<polyline points="337.3,337.1 405.6,345.0 473.9,340.6 542.2,348.4"/>
<polyline points="337.3,336.9 405.6,344.3 473.9,346.6 542.2,346.3"/>
<polyline points="337.3,334.6 405.6,346.1 473.9,337.9 542.2,340.2"/>
<polyline points="337.3,336.8 405.6,339.0 473.9,345.1 542.2,341.6"/>
<polyline points="337.3,334.7 405.6,345.1 473.9,341.9 542.2,345.9"/>
<polyline points="337.3,335.9 405.6,338.1 473.9,338.2 542.2,340.2"/>
<polyline points="337.3,334.0 405.6,338.1 473.9,344.8 542.2,340.1"/>
<polyline points="337.3,335.9 405.6,344.2 473.9,344.7 542.2,342.8"/>
<polyline points="337.3,336.0 405.6,343.0 473.9,341.5 542.2,337.6"/>
<polyline points="337.3,332.9 405.6,336.8 473.9,337.5 542.2,338.5"/>
<polyline points="337.3,332.5 405.6,342.7 473.9,343.5 542.2,334.5"/>
<polyline points="337.3,333.4 405.6,342.0 473.9,340.2 542.2,339.9"/>
<polyline points="337.3,334.0 405.6,339.8 473.9,339.6 542.2,333.8"/>
<polyline points="337.3,332.4 405.6,338.3 473.9,338.4 542.2,339.1"/>
<polyline points="337.3,332.4 405.6,334.4 473.9,340.5 542.2,333.9"/>
<polyline points="337.3,332.5 405.6,336.8 473.9,342.1 542.2,335.2"/>
<polyline points="337.3,334.2 405.6,340.4 473.9,336.0 542.2,333.6"/>
<polyline points="337.3,332.5 405.6,335.4 473.9,334.3 542.2,335.1"/>
<polyline points="337.3,334.5 405.6,334.8 473.9,332.6 542.2,330.5"/>
<polyline points="337.3,332.3 405.6,340.7 473.9,338.7 542.2,338.3"/>
<polyline points="337.3,332.0 405.6,336.0 473.9,338.3 542.2,328.2"/>
<polyline points="337.3,330.6 405.6,332.7 473.9,335.0 542.2,335.3"/>
<polyline points="337.3,333.3 405.6,333.0 473.9,332.1 542.2,335.0"/>
<polyline points="337.3,330.6 405.6,334.8 473.9,334.7 542.2,333.0"/>
<polyline points="337.3,331.1 405.6,335.4 473.9,331.7 542.2,335.8"/>
<polyline points="337.3,331.0 405.6,336.6 473.9,329.1 542.2,334.3"/>
<polyline points="337.3,332.2 405.6,334.0 473.9,333.6 542.2,330.3"/>
<polyline points="337.3,330.4 405.6,336.5 473.9,329.3 542.2,327.9"/>
<polyline points="337.3,330.4 405.6,334.0 473.9,332.1 542.2,331.4"/>
<polyline points="337.3,331.2 405.6,335.3 473.9,334.4 542.2,329.4"/>
<polyline points="337.3,332.1 405.6,333.2 473.9,330.0 542.2,330.9"/>
<polyline points="337.3,332.0 405.6,331.7 473.9,329.1 542.2,331.4"/>
<polyline points="337.3,330.4 405.6,331.5 473.9,329.1 542.2,326.8"/>
<polyline points="337.3,330.5 405.6,331.9 473.9,329.5 542.2,327.3"/>
<polyline points="337.3,330.4 405.6,331.5 473.9,329.1 542.2,326.8"/>
<polyline points="337.3,331.5 405.6,333.9 473.9,330.7 542.2,323.4"/>
<polyline points="337.3,333.9 405.6,337.2 473.9,331.5 542.2,324.9"/>
</g>
<g stroke="#1b1b86" stroke-width="1.3" fill="none">
<circle cx="337.3" cy="338.8" r="2.55"/>
<circle cx="405.6" cy="350.7" r="2.55"/>
<circle cx="473.9" cy="352.7" r="2.55"/>
<circle cx="542.2" cy="352.7" r="2.55"/>
<circle cx="337.3" cy="338.6" r="2.55"/>
<circle cx="405.6" cy="350.4" r="2.55"/>
<circle cx="473.9" cy="352.2" r="2.55"/>
<circle cx="542.2" cy="352.2" r="2.55"/>
<circle cx="337.3" cy="338.8" r="2.55"/>
<circle cx="405.6" cy="349.0" r="2.55"/>
<circle cx="473.9" cy="350.0" r="2.55"/>
<circle cx="542.2" cy="352.7" r="2.55"/>
<circle cx="337.3" cy="338.7" r="2.55"/>
<circle cx="405.6" cy="350.7" r="2.55"/>
<circle cx="473.9" cy="346.6" r="2.55"/>
<circle cx="542.2" cy="352.7" r="2.55"/>
<circle cx="337.3" cy="338.3" r="2.55"/>
<circle cx="405.6" cy="346.0" r="2.55"/>
<circle cx="473.9" cy="352.7" r="2.55"/>
<circle cx="542.2" cy="345.6" r="2.55"/>
<circle cx="337.3" cy="338.8" r="2.55"/>
<circle cx="405.6" cy="350.7" r="2.55"/>
<circle cx="473.9" cy="352.1" r="2.55"/>
<circle cx="542.2" cy="351.9" r="2.55"/>
<circle cx="337.3" cy="336.3" r="2.55"/>
<circle cx="405.6" cy="345.4" r="2.55"/>
<circle cx="473.9" cy="347.4" r="2.55"/>
<circle cx="542.2" cy="350.6" r="2.55"/>
<circle cx="337.3" cy="337.5" r="2.55"/>
<circle cx="405.6" cy="350.5" r="2.55"/>
<circle cx="473.9" cy="346.2" r="2.55"/>
<circle cx="542.2" cy="350.6" r="2.55"/>
<circle cx="337.3" cy="338.3" r="2.55"/>
<circle cx="405.6" cy="346.8" r="2.55"/>
<circle cx="473.9" cy="352.7" r="2.55"/>
<circle cx="542.2" cy="351.0" r="2.55"/>
<circle cx="337.3" cy="335.8" r="2.55"/>
<circle cx="405.6" cy="350.7" r="2.55"/>
<circle cx="473.9" cy="352.5" r="2.55"/>
<circle cx="542.2" cy="351.8" r="2.55"/>
<circle cx="337.3" cy="338.2" r="2.55"/>
<circle cx="405.6" cy="347.9" r="2.55"/>
<circle cx="473.9" cy="351.0" r="2.55"/>
<circle cx="542.2" cy="349.8" r="2.55"/>
<circle cx="337.3" cy="338.0" r="2.55"/>
<circle cx="405.6" cy="349.1" r="2.55"/>
<circle cx="473.9" cy="346.8" r="2.55"/>
<circle cx="542.2" cy="349.4" r="2.55"/>
<circle cx="337.3" cy="337.4" r="2.55"/>
<circle cx="405.6" cy="344.3" r="2.55"/>
<circle cx="473.9" cy="352.1" r="2.55"/>
<circle cx="542.2" cy="351.1" r="2.55"/>
<circle cx="337.3" cy="335.5" r="2.55"/>
<circle cx="405.6" cy="346.8" r="2.55"/>
<circle cx="473.9" cy="344.2" r="2.55"/>
<circle cx="542.2" cy="350.7" r="2.55"/>
<circle cx="337.3" cy="336.6" r="2.55"/>
<circle cx="405.6" cy="342.9" r="2.55"/>
<circle cx="473.9" cy="348.3" r="2.55"/>
<circle cx="542.2" cy="343.0" r="2.55"/>
<circle cx="337.3" cy="336.1" r="2.55"/>
<circle cx="405.6" cy="346.4" r="2.55"/>
<circle cx="473.9" cy="341.1" r="2.55"/>
<circle cx="542.2" cy="346.8" r="2.55"/>
<circle cx="337.3" cy="336.4" r="2.55"/>
<circle cx="405.6" cy="344.1" r="2.55"/>
<circle cx="473.9" cy="347.7" r="2.55"/>
<circle cx="542.2" cy="341.3" r="2.55"/>
<circle cx="337.3" cy="335.8" r="2.55"/>
<circle cx="405.6" cy="344.0" r="2.55"/>
<circle cx="473.9" cy="345.0" r="2.55"/>
<circle cx="542.2" cy="339.2" r="2.55"/>
<circle cx="337.3" cy="334.2" r="2.55"/>
<circle cx="405.6" cy="341.6" r="2.55"/>
<circle cx="473.9" cy="345.4" r="2.55"/>
<circle cx="542.2" cy="345.2" r="2.55"/>
<circle cx="337.3" cy="335.8" r="2.55"/>
<circle cx="405.6" cy="347.9" r="2.55"/>
<circle cx="473.9" cy="348.6" r="2.55"/>
<circle cx="542.2" cy="338.1" r="2.55"/>
<circle cx="337.3" cy="337.1" r="2.55"/>
<circle cx="405.6" cy="340.0" r="2.55"/>
<circle cx="473.9" cy="342.2" r="2.55"/>
<circle cx="542.2" cy="338.5" r="2.55"/>
<circle cx="337.3" cy="337.1" r="2.55"/>
<circle cx="405.6" cy="345.0" r="2.55"/>
<circle cx="473.9" cy="340.6" r="2.55"/>
<circle cx="542.2" cy="348.4" r="2.55"/>
<circle cx="337.3" cy="336.9" r="2.55"/>
<circle cx="405.6" cy="344.3" r="2.55"/>
<circle cx="473.9" cy="346.6" r="2.55"/>
<circle cx="542.2" cy="346.3" r="2.55"/>
<circle cx="337.3" cy="334.6" r="2.55"/>
<circle cx="405.6" cy="346.1" r="2.55"/>
<circle cx="473.9" cy="337.9" r="2.55"/>
<circle cx="542.2" cy="340.2" r="2.55"/>
<circle cx="337.3" cy="336.8" r="2.55"/>
<circle cx="405.6" cy="339.0" r="2.55"/>
<circle cx="473.9" cy="345.1" r="2.55"/>
<circle cx="542.2" cy="341.6" r="2.55"/>
<circle cx="337.3" cy="334.7" r="2.55"/>
<circle cx="405.6" cy="345.1" r="2.55"/>
<circle cx="473.9" cy="341.9" r="2.55"/>
<circle cx="542.2" cy="345.9" r="2.55"/>
<circle cx="337.3" cy="335.9" r="2.55"/>
<circle cx="405.6" cy="338.1" r="2.55"/>
<circle cx="473.9" cy="338.2" r="2.55"/>
<circle cx="542.2" cy="340.2" r="2.55"/>
<circle cx="337.3" cy="334.0" r="2.55"/>
<circle cx="405.6" cy="338.1" r="2.55"/>
<circle cx="473.9" cy="344.8" r="2.55"/>
<circle cx="542.2" cy="340.1" r="2.55"/>
<circle cx="337.3" cy="335.9" r="2.55"/>
<circle cx="405.6" cy="344.2" r="2.55"/>
<circle cx="473.9" cy="344.7" r="2.55"/>
<circle cx="542.2" cy="342.8" r="2.55"/>
<circle cx="337.3" cy="336.0" r="2.55"/>
<circle cx="405.6" cy="343.0" r="2.55"/>
<circle cx="473.9" cy="341.5" r="2.55"/>
<circle cx="542.2" cy="337.6" r="2.55"/>
<circle cx="337.3" cy="332.9" r="2.55"/>
<circle cx="405.6" cy="336.8" r="2.55"/>
<circle cx="473.9" cy="337.5" r="2.55"/>
<circle cx="542.2" cy="338.5" r="2.55"/>
<circle cx="337.3" cy="332.5" r="2.55"/>
<circle cx="405.6" cy="342.7" r="2.55"/>
<circle cx="473.9" cy="343.5" r="2.55"/>
<circle cx="542.2" cy="334.5" r="2.55"/>
<circle cx="337.3" cy="333.4" r="2.55"/>
<circle cx="405.6" cy="342.0" r="2.55"/>
<circle cx="473.9" cy="340.2" r="2.55"/>
<circle cx="542.2" cy="339.9" r="2.55"/>
<circle cx="337.3" cy="334.0" r="2.55"/>
<circle cx="405.6" cy="339.8" r="2.55"/>
<circle cx="473.9" cy="339.6" r="2.55"/>
<circle cx="542.2" cy="333.8" r="2.55"/>
<circle cx="337.3" cy="332.4" r="2.55"/>
<circle cx="405.6" cy="338.3" r="2.55"/>
<circle cx="473.9" cy="338.4" r="2.55"/>
<circle cx="542.2" cy="339.1" r="2.55"/>
<circle cx="337.3" cy="332.4" r="2.55"/>
<circle cx="405.6" cy="334.4" r="2.55"/>
<circle cx="473.9" cy="340.5" r="2.55"/>
<circle cx="542.2" cy="333.9" r="2.55"/>
<circle cx="337.3" cy="332.5" r="2.55"/>
<circle cx="405.6" cy="336.8" r="2.55"/>
<circle cx="473.9" cy="342.1" r="2.55"/>
<circle cx="542.2" cy="335.2" r="2.55"/>
<circle cx="337.3" cy="334.2" r="2.55"/>
<circle cx="405.6" cy="340.4" r="2.55"/>
<circle cx="473.9" cy="336.0" r="2.55"/>
<circle cx="542.2" cy="333.6" r="2.55"/>
<circle cx="337.3" cy="332.5" r="2.55"/>
<circle cx="405.6" cy="335.4" r="2.55"/>
<circle cx="473.9" cy="334.3" r="2.55"/>
<circle cx="542.2" cy="335.1" r="2.55"/>
<circle cx="337.3" cy="334.5" r="2.55"/>
<circle cx="405.6" cy="334.8" r="2.55"/>
<circle cx="473.9" cy="332.6" r="2.55"/>
<circle cx="542.2" cy="330.5" r="2.55"/>
<circle cx="337.3" cy="332.3" r="2.55"/>
<circle cx="405.6" cy="340.7" r="2.55"/>
<circle cx="473.9" cy="338.7" r="2.55"/>
<circle cx="542.2" cy="338.3" r="2.55"/>
<circle cx="337.3" cy="332.0" r="2.55"/>
<circle cx="405.6" cy="336.0" r="2.55"/>
<circle cx="473.9" cy="338.3" r="2.55"/>
<circle cx="542.2" cy="328.2" r="2.55"/>
<circle cx="337.3" cy="330.6" r="2.55"/>
<circle cx="405.6" cy="332.7" r="2.55"/>
<circle cx="473.9" cy="335.0" r="2.55"/>
<circle cx="542.2" cy="335.3" r="2.55"/>
<circle cx="337.3" cy="333.3" r="2.55"/>
<circle cx="405.6" cy="333.0" r="2.55"/>
<circle cx="473.9" cy="332.1" r="2.55"/>
<circle cx="542.2" cy="335.0" r="2.55"/>
<circle cx="337.3" cy="330.6" r="2.55"/>
<circle cx="405.6" cy="334.8" r="2.55"/>
<circle cx="473.9" cy="334.7" r="2.55"/>
<circle cx="542.2" cy="333.0" r="2.55"/>
<circle cx="337.3" cy="331.1" r="2.55"/>
<circle cx="405.6" cy="335.4" r="2.55"/>
<circle cx="473.9" cy="331.7" r="2.55"/>
<circle cx="542.2" cy="335.8" r="2.55"/>
<circle cx="337.3" cy="331.0" r="2.55"/>
<circle cx="405.6" cy="336.6" r="2.55"/>
<circle cx="473.9" cy="329.1" r="2.55"/>
<circle cx="542.2" cy="334.3" r="2.55"/>
<circle cx="337.3" cy="332.2" r="2.55"/>
<circle cx="405.6" cy="334.0" r="2.55"/>
<circle cx="473.9" cy="333.6" r="2.55"/>
<circle cx="542.2" cy="330.3" r="2.55"/>
<circle cx="337.3" cy="330.4" r="2.55"/>
<circle cx="405.6" cy="336.5" r="2.55"/>
<circle cx="473.9" cy="329.3" r="2.55"/>
<circle cx="542.2" cy="327.9" r="2.55"/>
<circle cx="337.3" cy="330.4" r="2.55"/>
<circle cx="405.6" cy="334.0" r="2.55"/>
<circle cx="473.9" cy="332.1" r="2.55"/>
<circle cx="542.2" cy="331.4" r="2.55"/>
<circle cx="337.3" cy="331.2" r="2.55"/>
<circle cx="405.6" cy="335.3" r="2.55"/>
<circle cx="473.9" cy="334.4" r="2.55"/>
<circle cx="542.2" cy="329.4" r="2.55"/>
<circle cx="337.3" cy="332.1" r="2.55"/>
<circle cx="405.6" cy="333.2" r="2.55"/>
<circle cx="473.9" cy="330.0" r="2.55"/>
<circle cx="542.2" cy="330.9" r="2.55"/>
<circle cx="337.3" cy="332.0" r="2.55"/>
<circle cx="405.6" cy="331.7" r="2.55"/>
<circle cx="473.9" cy="329.1" r="2.55"/>
<circle cx="542.2" cy="331.4" r="2.55"/>
<circle cx="337.3" cy="330.4" r="2.55"/>
<circle cx="405.6" cy="331.5" r="2.55"/>
<circle cx="473.9" cy="329.1" r="2.55"/>
<circle cx="542.2" cy="326.8" r="2.55"/>
<circle cx="337.3" cy="330.5" r="2.55"/>
<circle cx="405.6" cy="331.9" r="2.55"/>
<circle cx="473.9" cy="329.5" r="2.55"/>
<circle cx="542.2" cy="327.3" r="2.55"/>
<circle cx="337.3" cy="330.4" r="2.55"/>
<circle cx="405.6" cy="331.5" r="2.55"/>
<circle cx="473.9" cy="329.1" r="2.55"/>
<circle cx="542.2" cy="326.8" r="2.55"/>
<circle cx="337.3" cy="331.5" r="2.55"/>
<circle cx="405.6" cy="333.9" r="2.55"/>
<circle cx="473.9" cy="330.7" r="2.55"/>
<circle cx="542.2" cy="323.4" r="2.55"/>
<circle cx="337.3" cy="333.9" r="2.55"/>
<circle cx="405.6" cy="337.2" r="2.55"/>
<circle cx="473.9" cy="331.5" r="2.55"/>
<circle cx="542.2" cy="324.9" r="2.55"/>
</g>
<g stroke="#1b1b86" stroke-width="1.3" fill="#fff">
<circle cx="337.3" cy="331.1" r="2.5"/>
<circle cx="337.3" cy="335.8" r="2.5"/>
<circle cx="337.3" cy="331.5" r="2.5"/>
<circle cx="337.3" cy="333.9" r="2.5"/>
<circle cx="405.6" cy="350.7" r="2.5"/>
<circle cx="405.6" cy="331.5" r="2.5"/>
<circle cx="405.6" cy="346.2" r="2.5"/>
<circle cx="405.6" cy="343.4" r="2.5"/>
<circle cx="405.6" cy="340.5" r="2.5"/>
<circle cx="405.6" cy="334.6" r="2.5"/>
<circle cx="405.6" cy="333.9" r="2.5"/>
<circle cx="405.6" cy="337.2" r="2.5"/>
<circle cx="473.9" cy="352.7" r="2.5"/>
<circle cx="473.9" cy="329.1" r="2.5"/>
<circle cx="473.9" cy="348.7" r="2.5"/>
<circle cx="473.9" cy="343.7" r="2.5"/>
<circle cx="473.9" cy="339.4" r="2.5"/>
<circle cx="473.9" cy="334.4" r="2.5"/>
<circle cx="473.9" cy="330.7" r="2.5"/>
<circle cx="473.9" cy="331.5" r="2.5"/>
<circle cx="542.2" cy="352.7" r="2.5"/>
<circle cx="542.2" cy="326.8" r="2.5"/>
<circle cx="542.2" cy="346.9" r="2.5"/>
<circle cx="542.2" cy="342.7" r="2.5"/>
<circle cx="542.2" cy="337.8" r="2.5"/>
<circle cx="542.2" cy="332.2" r="2.5"/>
<circle cx="542.2" cy="323.4" r="2.5"/>
<circle cx="542.2" cy="324.9" r="2.5"/>
</g>
</svg></body></html>
